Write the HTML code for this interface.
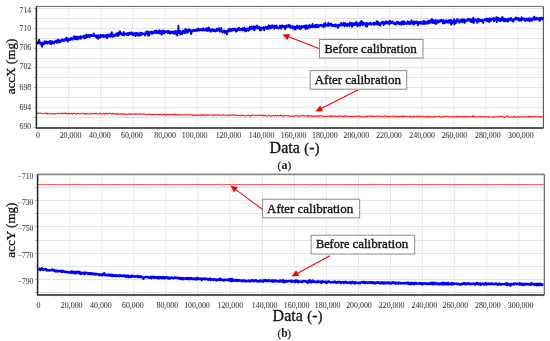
<!DOCTYPE html>
<html><head><meta charset="utf-8"><title>Calibration chart</title>
<style>html,body{margin:0;padding:0;background:#fff;}body{width:550px;height:341px;overflow:hidden;}svg{display:block;filter:blur(0.3px);}</style>
</head><body>
<svg width="550" height="341" viewBox="0 0 550 341">
<rect width="550" height="341" fill="#fff"/>
<g font-family="'Liberation Serif', 'Times New Roman', serif" fill="#3a3a3a">
<line x1="36.4" y1="8.50" x2="543.4" y2="8.50" stroke="#e3e3e3" stroke-width="1"/>
<line x1="36.4" y1="18.50" x2="543.4" y2="18.50" stroke="#e3e3e3" stroke-width="1"/>
<line x1="36.4" y1="28.50" x2="543.4" y2="28.50" stroke="#e3e3e3" stroke-width="1"/>
<line x1="36.4" y1="38.50" x2="543.4" y2="38.50" stroke="#e3e3e3" stroke-width="1"/>
<line x1="36.4" y1="48.50" x2="543.4" y2="48.50" stroke="#e3e3e3" stroke-width="1"/>
<line x1="36.4" y1="58.50" x2="543.4" y2="58.50" stroke="#e3e3e3" stroke-width="1"/>
<line x1="36.4" y1="67.50" x2="543.4" y2="67.50" stroke="#e3e3e3" stroke-width="1"/>
<line x1="36.4" y1="77.50" x2="543.4" y2="77.50" stroke="#e3e3e3" stroke-width="1"/>
<line x1="36.4" y1="87.50" x2="543.4" y2="87.50" stroke="#e3e3e3" stroke-width="1"/>
<line x1="36.4" y1="97.50" x2="543.4" y2="97.50" stroke="#e3e3e3" stroke-width="1"/>
<line x1="36.4" y1="107.50" x2="543.4" y2="107.50" stroke="#e3e3e3" stroke-width="1"/>
<line x1="36.4" y1="117.50" x2="543.4" y2="117.50" stroke="#e3e3e3" stroke-width="1"/>
<line x1="68.62" y1="6.4" x2="68.62" y2="128.0" stroke="#e4e4e4" stroke-width="0.9"/>
<line x1="100.71" y1="6.4" x2="100.71" y2="128.0" stroke="#e4e4e4" stroke-width="0.9"/>
<line x1="132.80" y1="6.4" x2="132.80" y2="128.0" stroke="#e4e4e4" stroke-width="0.9"/>
<line x1="164.89" y1="6.4" x2="164.89" y2="128.0" stroke="#e4e4e4" stroke-width="0.9"/>
<line x1="196.98" y1="6.4" x2="196.98" y2="128.0" stroke="#e4e4e4" stroke-width="0.9"/>
<line x1="229.07" y1="6.4" x2="229.07" y2="128.0" stroke="#e4e4e4" stroke-width="0.9"/>
<line x1="261.16" y1="6.4" x2="261.16" y2="128.0" stroke="#e4e4e4" stroke-width="0.9"/>
<line x1="293.25" y1="6.4" x2="293.25" y2="128.0" stroke="#e4e4e4" stroke-width="0.9"/>
<line x1="325.34" y1="6.4" x2="325.34" y2="128.0" stroke="#e4e4e4" stroke-width="0.9"/>
<line x1="357.43" y1="6.4" x2="357.43" y2="128.0" stroke="#e4e4e4" stroke-width="0.9"/>
<line x1="389.52" y1="6.4" x2="389.52" y2="128.0" stroke="#e4e4e4" stroke-width="0.9"/>
<line x1="421.61" y1="6.4" x2="421.61" y2="128.0" stroke="#e4e4e4" stroke-width="0.9"/>
<line x1="453.70" y1="6.4" x2="453.70" y2="128.0" stroke="#e4e4e4" stroke-width="0.9"/>
<line x1="485.79" y1="6.4" x2="485.79" y2="128.0" stroke="#e4e4e4" stroke-width="0.9"/>
<line x1="517.88" y1="6.4" x2="517.88" y2="128.0" stroke="#e4e4e4" stroke-width="0.9"/>
<line x1="33.80" y1="8.50" x2="36.4" y2="8.50" stroke="#aaa" stroke-width="0.8"/>
<line x1="33.80" y1="18.50" x2="36.4" y2="18.50" stroke="#aaa" stroke-width="0.8"/>
<line x1="33.80" y1="28.50" x2="36.4" y2="28.50" stroke="#aaa" stroke-width="0.8"/>
<line x1="33.80" y1="38.50" x2="36.4" y2="38.50" stroke="#aaa" stroke-width="0.8"/>
<line x1="33.80" y1="48.50" x2="36.4" y2="48.50" stroke="#aaa" stroke-width="0.8"/>
<line x1="33.80" y1="58.50" x2="36.4" y2="58.50" stroke="#aaa" stroke-width="0.8"/>
<line x1="33.80" y1="67.50" x2="36.4" y2="67.50" stroke="#aaa" stroke-width="0.8"/>
<line x1="33.80" y1="77.50" x2="36.4" y2="77.50" stroke="#aaa" stroke-width="0.8"/>
<line x1="33.80" y1="87.50" x2="36.4" y2="87.50" stroke="#aaa" stroke-width="0.8"/>
<line x1="33.80" y1="97.50" x2="36.4" y2="97.50" stroke="#aaa" stroke-width="0.8"/>
<line x1="33.80" y1="107.50" x2="36.4" y2="107.50" stroke="#aaa" stroke-width="0.8"/>
<line x1="33.80" y1="117.50" x2="36.4" y2="117.50" stroke="#aaa" stroke-width="0.8"/>
<line x1="33.80" y1="127.50" x2="36.4" y2="127.50" stroke="#aaa" stroke-width="0.8"/>
<line x1="36.53" y1="128.0" x2="36.53" y2="130.2" stroke="#ccc" stroke-width="0.7"/>
<line x1="44.55" y1="128.0" x2="44.55" y2="130.2" stroke="#ccc" stroke-width="0.7"/>
<line x1="52.58" y1="128.0" x2="52.58" y2="130.2" stroke="#ccc" stroke-width="0.7"/>
<line x1="60.60" y1="128.0" x2="60.60" y2="130.2" stroke="#ccc" stroke-width="0.7"/>
<line x1="68.62" y1="128.0" x2="68.62" y2="130.2" stroke="#ccc" stroke-width="0.7"/>
<line x1="76.64" y1="128.0" x2="76.64" y2="130.2" stroke="#ccc" stroke-width="0.7"/>
<line x1="84.67" y1="128.0" x2="84.67" y2="130.2" stroke="#ccc" stroke-width="0.7"/>
<line x1="92.69" y1="128.0" x2="92.69" y2="130.2" stroke="#ccc" stroke-width="0.7"/>
<line x1="100.71" y1="128.0" x2="100.71" y2="130.2" stroke="#ccc" stroke-width="0.7"/>
<line x1="108.73" y1="128.0" x2="108.73" y2="130.2" stroke="#ccc" stroke-width="0.7"/>
<line x1="116.76" y1="128.0" x2="116.76" y2="130.2" stroke="#ccc" stroke-width="0.7"/>
<line x1="124.78" y1="128.0" x2="124.78" y2="130.2" stroke="#ccc" stroke-width="0.7"/>
<line x1="132.80" y1="128.0" x2="132.80" y2="130.2" stroke="#ccc" stroke-width="0.7"/>
<line x1="140.82" y1="128.0" x2="140.82" y2="130.2" stroke="#ccc" stroke-width="0.7"/>
<line x1="148.85" y1="128.0" x2="148.85" y2="130.2" stroke="#ccc" stroke-width="0.7"/>
<line x1="156.87" y1="128.0" x2="156.87" y2="130.2" stroke="#ccc" stroke-width="0.7"/>
<line x1="164.89" y1="128.0" x2="164.89" y2="130.2" stroke="#ccc" stroke-width="0.7"/>
<line x1="172.91" y1="128.0" x2="172.91" y2="130.2" stroke="#ccc" stroke-width="0.7"/>
<line x1="180.94" y1="128.0" x2="180.94" y2="130.2" stroke="#ccc" stroke-width="0.7"/>
<line x1="188.96" y1="128.0" x2="188.96" y2="130.2" stroke="#ccc" stroke-width="0.7"/>
<line x1="196.98" y1="128.0" x2="196.98" y2="130.2" stroke="#ccc" stroke-width="0.7"/>
<line x1="205.00" y1="128.0" x2="205.00" y2="130.2" stroke="#ccc" stroke-width="0.7"/>
<line x1="213.03" y1="128.0" x2="213.03" y2="130.2" stroke="#ccc" stroke-width="0.7"/>
<line x1="221.05" y1="128.0" x2="221.05" y2="130.2" stroke="#ccc" stroke-width="0.7"/>
<line x1="229.07" y1="128.0" x2="229.07" y2="130.2" stroke="#ccc" stroke-width="0.7"/>
<line x1="237.09" y1="128.0" x2="237.09" y2="130.2" stroke="#ccc" stroke-width="0.7"/>
<line x1="245.12" y1="128.0" x2="245.12" y2="130.2" stroke="#ccc" stroke-width="0.7"/>
<line x1="253.14" y1="128.0" x2="253.14" y2="130.2" stroke="#ccc" stroke-width="0.7"/>
<line x1="261.16" y1="128.0" x2="261.16" y2="130.2" stroke="#ccc" stroke-width="0.7"/>
<line x1="269.18" y1="128.0" x2="269.18" y2="130.2" stroke="#ccc" stroke-width="0.7"/>
<line x1="277.21" y1="128.0" x2="277.21" y2="130.2" stroke="#ccc" stroke-width="0.7"/>
<line x1="285.23" y1="128.0" x2="285.23" y2="130.2" stroke="#ccc" stroke-width="0.7"/>
<line x1="293.25" y1="128.0" x2="293.25" y2="130.2" stroke="#ccc" stroke-width="0.7"/>
<line x1="301.27" y1="128.0" x2="301.27" y2="130.2" stroke="#ccc" stroke-width="0.7"/>
<line x1="309.30" y1="128.0" x2="309.30" y2="130.2" stroke="#ccc" stroke-width="0.7"/>
<line x1="317.32" y1="128.0" x2="317.32" y2="130.2" stroke="#ccc" stroke-width="0.7"/>
<line x1="325.34" y1="128.0" x2="325.34" y2="130.2" stroke="#ccc" stroke-width="0.7"/>
<line x1="333.36" y1="128.0" x2="333.36" y2="130.2" stroke="#ccc" stroke-width="0.7"/>
<line x1="341.38" y1="128.0" x2="341.38" y2="130.2" stroke="#ccc" stroke-width="0.7"/>
<line x1="349.41" y1="128.0" x2="349.41" y2="130.2" stroke="#ccc" stroke-width="0.7"/>
<line x1="357.43" y1="128.0" x2="357.43" y2="130.2" stroke="#ccc" stroke-width="0.7"/>
<line x1="365.45" y1="128.0" x2="365.45" y2="130.2" stroke="#ccc" stroke-width="0.7"/>
<line x1="373.48" y1="128.0" x2="373.48" y2="130.2" stroke="#ccc" stroke-width="0.7"/>
<line x1="381.50" y1="128.0" x2="381.50" y2="130.2" stroke="#ccc" stroke-width="0.7"/>
<line x1="389.52" y1="128.0" x2="389.52" y2="130.2" stroke="#ccc" stroke-width="0.7"/>
<line x1="397.54" y1="128.0" x2="397.54" y2="130.2" stroke="#ccc" stroke-width="0.7"/>
<line x1="405.57" y1="128.0" x2="405.57" y2="130.2" stroke="#ccc" stroke-width="0.7"/>
<line x1="413.59" y1="128.0" x2="413.59" y2="130.2" stroke="#ccc" stroke-width="0.7"/>
<line x1="421.61" y1="128.0" x2="421.61" y2="130.2" stroke="#ccc" stroke-width="0.7"/>
<line x1="429.63" y1="128.0" x2="429.63" y2="130.2" stroke="#ccc" stroke-width="0.7"/>
<line x1="437.66" y1="128.0" x2="437.66" y2="130.2" stroke="#ccc" stroke-width="0.7"/>
<line x1="445.68" y1="128.0" x2="445.68" y2="130.2" stroke="#ccc" stroke-width="0.7"/>
<line x1="453.70" y1="128.0" x2="453.70" y2="130.2" stroke="#ccc" stroke-width="0.7"/>
<line x1="461.72" y1="128.0" x2="461.72" y2="130.2" stroke="#ccc" stroke-width="0.7"/>
<line x1="469.75" y1="128.0" x2="469.75" y2="130.2" stroke="#ccc" stroke-width="0.7"/>
<line x1="477.77" y1="128.0" x2="477.77" y2="130.2" stroke="#ccc" stroke-width="0.7"/>
<line x1="485.79" y1="128.0" x2="485.79" y2="130.2" stroke="#ccc" stroke-width="0.7"/>
<line x1="493.81" y1="128.0" x2="493.81" y2="130.2" stroke="#ccc" stroke-width="0.7"/>
<line x1="501.84" y1="128.0" x2="501.84" y2="130.2" stroke="#ccc" stroke-width="0.7"/>
<line x1="509.86" y1="128.0" x2="509.86" y2="130.2" stroke="#ccc" stroke-width="0.7"/>
<line x1="517.88" y1="128.0" x2="517.88" y2="130.2" stroke="#ccc" stroke-width="0.7"/>
<line x1="525.90" y1="128.0" x2="525.90" y2="130.2" stroke="#ccc" stroke-width="0.7"/>
<line x1="533.93" y1="128.0" x2="533.93" y2="130.2" stroke="#ccc" stroke-width="0.7"/>
<line x1="541.95" y1="128.0" x2="541.95" y2="130.2" stroke="#ccc" stroke-width="0.7"/>
<line x1="36.4" y1="6.4" x2="543.4" y2="6.4" stroke="#666" stroke-width="1.0"/>
<line x1="543.4" y1="6.4" x2="543.4" y2="128.0" stroke="#555" stroke-width="1.1"/>
<text x="31.2" y="12.65" text-anchor="end" font-size="7.8" stroke="#444" stroke-width="0.08">714</text>
<text x="31.2" y="30.80" text-anchor="end" font-size="7.8" stroke="#444" stroke-width="0.08">710</text>
<text x="31.2" y="50.00" text-anchor="end" font-size="7.8" stroke="#444" stroke-width="0.08">706</text>
<text x="31.2" y="68.80" text-anchor="end" font-size="7.8" stroke="#444" stroke-width="0.08">702</text>
<text x="31.2" y="89.60" text-anchor="end" font-size="7.8" stroke="#444" stroke-width="0.08">698</text>
<text x="31.2" y="110.40" text-anchor="end" font-size="7.8" stroke="#444" stroke-width="0.08">694</text>
<text x="31.2" y="128.70" text-anchor="end" font-size="7.8" stroke="#444" stroke-width="0.08">690</text>
<text x="38.00" y="138.0" text-anchor="middle" font-size="7.9" stroke="#444" stroke-width="0.08">0</text>
<text x="70.50" y="138.0" text-anchor="middle" font-size="7.9" stroke="#444" stroke-width="0.08">20,000</text>
<text x="99.90" y="138.0" text-anchor="middle" font-size="7.9" stroke="#444" stroke-width="0.08">40,000</text>
<text x="131.80" y="138.0" text-anchor="middle" font-size="7.9" stroke="#444" stroke-width="0.08">60,000</text>
<text x="165.10" y="138.0" text-anchor="middle" font-size="7.9" stroke="#444" stroke-width="0.08">80,000</text>
<text x="194.70" y="138.0" text-anchor="middle" font-size="7.9" stroke="#444" stroke-width="0.08">100,000</text>
<text x="228.50" y="138.0" text-anchor="middle" font-size="7.9" stroke="#444" stroke-width="0.08">120,000</text>
<text x="261.60" y="138.0" text-anchor="middle" font-size="7.9" stroke="#444" stroke-width="0.08">140,000</text>
<text x="293.70" y="138.0" text-anchor="middle" font-size="7.9" stroke="#444" stroke-width="0.08">160,000</text>
<text x="324.90" y="138.0" text-anchor="middle" font-size="7.9" stroke="#444" stroke-width="0.08">180,000</text>
<text x="356.30" y="138.0" text-anchor="middle" font-size="7.9" stroke="#444" stroke-width="0.08">200,000</text>
<text x="389.00" y="138.0" text-anchor="middle" font-size="7.9" stroke="#444" stroke-width="0.08">220,000</text>
<text x="422.10" y="138.0" text-anchor="middle" font-size="7.9" stroke="#444" stroke-width="0.08">240,000</text>
<text x="454.50" y="138.0" text-anchor="middle" font-size="7.9" stroke="#444" stroke-width="0.08">260,000</text>
<text x="487.80" y="138.0" text-anchor="middle" font-size="7.9" stroke="#444" stroke-width="0.08">280,000</text>
<text x="520.90" y="138.0" text-anchor="middle" font-size="7.9" stroke="#444" stroke-width="0.08">300,000</text>
<line x1="37.6" y1="187.50" x2="544.3" y2="187.50" stroke="#e3e3e3" stroke-width="1"/>
<line x1="37.6" y1="200.50" x2="544.3" y2="200.50" stroke="#e3e3e3" stroke-width="1"/>
<line x1="37.6" y1="213.50" x2="544.3" y2="213.50" stroke="#e3e3e3" stroke-width="1"/>
<line x1="37.6" y1="226.50" x2="544.3" y2="226.50" stroke="#e3e3e3" stroke-width="1"/>
<line x1="37.6" y1="240.50" x2="544.3" y2="240.50" stroke="#e3e3e3" stroke-width="1"/>
<line x1="37.6" y1="253.50" x2="544.3" y2="253.50" stroke="#e3e3e3" stroke-width="1"/>
<line x1="37.6" y1="266.50" x2="544.3" y2="266.50" stroke="#e3e3e3" stroke-width="1"/>
<line x1="37.6" y1="279.50" x2="544.3" y2="279.50" stroke="#e3e3e3" stroke-width="1"/>
<line x1="37.6" y1="292.50" x2="544.3" y2="292.50" stroke="#e3e3e3" stroke-width="1"/>
<line x1="70.00" y1="174.4" x2="70.00" y2="295.0" stroke="#e4e4e4" stroke-width="0.9"/>
<line x1="102.06" y1="174.4" x2="102.06" y2="295.0" stroke="#e4e4e4" stroke-width="0.9"/>
<line x1="134.12" y1="174.4" x2="134.12" y2="295.0" stroke="#e4e4e4" stroke-width="0.9"/>
<line x1="166.17" y1="174.4" x2="166.17" y2="295.0" stroke="#e4e4e4" stroke-width="0.9"/>
<line x1="198.23" y1="174.4" x2="198.23" y2="295.0" stroke="#e4e4e4" stroke-width="0.9"/>
<line x1="230.28" y1="174.4" x2="230.28" y2="295.0" stroke="#e4e4e4" stroke-width="0.9"/>
<line x1="262.33" y1="174.4" x2="262.33" y2="295.0" stroke="#e4e4e4" stroke-width="0.9"/>
<line x1="294.39" y1="174.4" x2="294.39" y2="295.0" stroke="#e4e4e4" stroke-width="0.9"/>
<line x1="326.44" y1="174.4" x2="326.44" y2="295.0" stroke="#e4e4e4" stroke-width="0.9"/>
<line x1="358.50" y1="174.4" x2="358.50" y2="295.0" stroke="#e4e4e4" stroke-width="0.9"/>
<line x1="390.56" y1="174.4" x2="390.56" y2="295.0" stroke="#e4e4e4" stroke-width="0.9"/>
<line x1="422.61" y1="174.4" x2="422.61" y2="295.0" stroke="#e4e4e4" stroke-width="0.9"/>
<line x1="454.66" y1="174.4" x2="454.66" y2="295.0" stroke="#e4e4e4" stroke-width="0.9"/>
<line x1="486.72" y1="174.4" x2="486.72" y2="295.0" stroke="#e4e4e4" stroke-width="0.9"/>
<line x1="518.77" y1="174.4" x2="518.77" y2="295.0" stroke="#e4e4e4" stroke-width="0.9"/>
<line x1="35.00" y1="187.50" x2="37.6" y2="187.50" stroke="#aaa" stroke-width="0.8"/>
<line x1="35.00" y1="200.50" x2="37.6" y2="200.50" stroke="#aaa" stroke-width="0.8"/>
<line x1="35.00" y1="213.50" x2="37.6" y2="213.50" stroke="#aaa" stroke-width="0.8"/>
<line x1="35.00" y1="226.50" x2="37.6" y2="226.50" stroke="#aaa" stroke-width="0.8"/>
<line x1="35.00" y1="240.50" x2="37.6" y2="240.50" stroke="#aaa" stroke-width="0.8"/>
<line x1="35.00" y1="253.50" x2="37.6" y2="253.50" stroke="#aaa" stroke-width="0.8"/>
<line x1="35.00" y1="266.50" x2="37.6" y2="266.50" stroke="#aaa" stroke-width="0.8"/>
<line x1="35.00" y1="279.50" x2="37.6" y2="279.50" stroke="#aaa" stroke-width="0.8"/>
<line x1="35.00" y1="292.50" x2="37.6" y2="292.50" stroke="#aaa" stroke-width="0.8"/>
<line x1="35.00" y1="174.50" x2="37.6" y2="174.50" stroke="#aaa" stroke-width="0.8"/>
<line x1="37.95" y1="295.0" x2="37.95" y2="297.2" stroke="#ccc" stroke-width="0.7"/>
<line x1="45.96" y1="295.0" x2="45.96" y2="297.2" stroke="#ccc" stroke-width="0.7"/>
<line x1="53.98" y1="295.0" x2="53.98" y2="297.2" stroke="#ccc" stroke-width="0.7"/>
<line x1="61.99" y1="295.0" x2="61.99" y2="297.2" stroke="#ccc" stroke-width="0.7"/>
<line x1="70.00" y1="295.0" x2="70.00" y2="297.2" stroke="#ccc" stroke-width="0.7"/>
<line x1="78.02" y1="295.0" x2="78.02" y2="297.2" stroke="#ccc" stroke-width="0.7"/>
<line x1="86.03" y1="295.0" x2="86.03" y2="297.2" stroke="#ccc" stroke-width="0.7"/>
<line x1="94.05" y1="295.0" x2="94.05" y2="297.2" stroke="#ccc" stroke-width="0.7"/>
<line x1="102.06" y1="295.0" x2="102.06" y2="297.2" stroke="#ccc" stroke-width="0.7"/>
<line x1="110.07" y1="295.0" x2="110.07" y2="297.2" stroke="#ccc" stroke-width="0.7"/>
<line x1="118.09" y1="295.0" x2="118.09" y2="297.2" stroke="#ccc" stroke-width="0.7"/>
<line x1="126.10" y1="295.0" x2="126.10" y2="297.2" stroke="#ccc" stroke-width="0.7"/>
<line x1="134.12" y1="295.0" x2="134.12" y2="297.2" stroke="#ccc" stroke-width="0.7"/>
<line x1="142.13" y1="295.0" x2="142.13" y2="297.2" stroke="#ccc" stroke-width="0.7"/>
<line x1="150.14" y1="295.0" x2="150.14" y2="297.2" stroke="#ccc" stroke-width="0.7"/>
<line x1="158.16" y1="295.0" x2="158.16" y2="297.2" stroke="#ccc" stroke-width="0.7"/>
<line x1="166.17" y1="295.0" x2="166.17" y2="297.2" stroke="#ccc" stroke-width="0.7"/>
<line x1="174.18" y1="295.0" x2="174.18" y2="297.2" stroke="#ccc" stroke-width="0.7"/>
<line x1="182.20" y1="295.0" x2="182.20" y2="297.2" stroke="#ccc" stroke-width="0.7"/>
<line x1="190.21" y1="295.0" x2="190.21" y2="297.2" stroke="#ccc" stroke-width="0.7"/>
<line x1="198.23" y1="295.0" x2="198.23" y2="297.2" stroke="#ccc" stroke-width="0.7"/>
<line x1="206.24" y1="295.0" x2="206.24" y2="297.2" stroke="#ccc" stroke-width="0.7"/>
<line x1="214.25" y1="295.0" x2="214.25" y2="297.2" stroke="#ccc" stroke-width="0.7"/>
<line x1="222.27" y1="295.0" x2="222.27" y2="297.2" stroke="#ccc" stroke-width="0.7"/>
<line x1="230.28" y1="295.0" x2="230.28" y2="297.2" stroke="#ccc" stroke-width="0.7"/>
<line x1="238.29" y1="295.0" x2="238.29" y2="297.2" stroke="#ccc" stroke-width="0.7"/>
<line x1="246.31" y1="295.0" x2="246.31" y2="297.2" stroke="#ccc" stroke-width="0.7"/>
<line x1="254.32" y1="295.0" x2="254.32" y2="297.2" stroke="#ccc" stroke-width="0.7"/>
<line x1="262.33" y1="295.0" x2="262.33" y2="297.2" stroke="#ccc" stroke-width="0.7"/>
<line x1="270.35" y1="295.0" x2="270.35" y2="297.2" stroke="#ccc" stroke-width="0.7"/>
<line x1="278.36" y1="295.0" x2="278.36" y2="297.2" stroke="#ccc" stroke-width="0.7"/>
<line x1="286.38" y1="295.0" x2="286.38" y2="297.2" stroke="#ccc" stroke-width="0.7"/>
<line x1="294.39" y1="295.0" x2="294.39" y2="297.2" stroke="#ccc" stroke-width="0.7"/>
<line x1="302.40" y1="295.0" x2="302.40" y2="297.2" stroke="#ccc" stroke-width="0.7"/>
<line x1="310.42" y1="295.0" x2="310.42" y2="297.2" stroke="#ccc" stroke-width="0.7"/>
<line x1="318.43" y1="295.0" x2="318.43" y2="297.2" stroke="#ccc" stroke-width="0.7"/>
<line x1="326.44" y1="295.0" x2="326.44" y2="297.2" stroke="#ccc" stroke-width="0.7"/>
<line x1="334.46" y1="295.0" x2="334.46" y2="297.2" stroke="#ccc" stroke-width="0.7"/>
<line x1="342.47" y1="295.0" x2="342.47" y2="297.2" stroke="#ccc" stroke-width="0.7"/>
<line x1="350.49" y1="295.0" x2="350.49" y2="297.2" stroke="#ccc" stroke-width="0.7"/>
<line x1="358.50" y1="295.0" x2="358.50" y2="297.2" stroke="#ccc" stroke-width="0.7"/>
<line x1="366.51" y1="295.0" x2="366.51" y2="297.2" stroke="#ccc" stroke-width="0.7"/>
<line x1="374.53" y1="295.0" x2="374.53" y2="297.2" stroke="#ccc" stroke-width="0.7"/>
<line x1="382.54" y1="295.0" x2="382.54" y2="297.2" stroke="#ccc" stroke-width="0.7"/>
<line x1="390.56" y1="295.0" x2="390.56" y2="297.2" stroke="#ccc" stroke-width="0.7"/>
<line x1="398.57" y1="295.0" x2="398.57" y2="297.2" stroke="#ccc" stroke-width="0.7"/>
<line x1="406.58" y1="295.0" x2="406.58" y2="297.2" stroke="#ccc" stroke-width="0.7"/>
<line x1="414.60" y1="295.0" x2="414.60" y2="297.2" stroke="#ccc" stroke-width="0.7"/>
<line x1="422.61" y1="295.0" x2="422.61" y2="297.2" stroke="#ccc" stroke-width="0.7"/>
<line x1="430.62" y1="295.0" x2="430.62" y2="297.2" stroke="#ccc" stroke-width="0.7"/>
<line x1="438.64" y1="295.0" x2="438.64" y2="297.2" stroke="#ccc" stroke-width="0.7"/>
<line x1="446.65" y1="295.0" x2="446.65" y2="297.2" stroke="#ccc" stroke-width="0.7"/>
<line x1="454.66" y1="295.0" x2="454.66" y2="297.2" stroke="#ccc" stroke-width="0.7"/>
<line x1="462.68" y1="295.0" x2="462.68" y2="297.2" stroke="#ccc" stroke-width="0.7"/>
<line x1="470.69" y1="295.0" x2="470.69" y2="297.2" stroke="#ccc" stroke-width="0.7"/>
<line x1="478.71" y1="295.0" x2="478.71" y2="297.2" stroke="#ccc" stroke-width="0.7"/>
<line x1="486.72" y1="295.0" x2="486.72" y2="297.2" stroke="#ccc" stroke-width="0.7"/>
<line x1="494.73" y1="295.0" x2="494.73" y2="297.2" stroke="#ccc" stroke-width="0.7"/>
<line x1="502.75" y1="295.0" x2="502.75" y2="297.2" stroke="#ccc" stroke-width="0.7"/>
<line x1="510.76" y1="295.0" x2="510.76" y2="297.2" stroke="#ccc" stroke-width="0.7"/>
<line x1="518.77" y1="295.0" x2="518.77" y2="297.2" stroke="#ccc" stroke-width="0.7"/>
<line x1="526.79" y1="295.0" x2="526.79" y2="297.2" stroke="#ccc" stroke-width="0.7"/>
<line x1="534.80" y1="295.0" x2="534.80" y2="297.2" stroke="#ccc" stroke-width="0.7"/>
<line x1="542.82" y1="295.0" x2="542.82" y2="297.2" stroke="#ccc" stroke-width="0.7"/>
<line x1="37.6" y1="174.4" x2="544.3" y2="174.4" stroke="#888" stroke-width="1.6"/>
<line x1="544.3" y1="174.4" x2="544.3" y2="295.0" stroke="#555" stroke-width="1.1"/>
<text x="33.4" y="178.60" text-anchor="end" font-size="7.6" stroke="#444" stroke-width="0.08">−710</text>
<text x="33.4" y="205.10" text-anchor="end" font-size="7.6" stroke="#444" stroke-width="0.08">−730</text>
<text x="33.4" y="231.30" text-anchor="end" font-size="7.6" stroke="#444" stroke-width="0.08">−750</text>
<text x="33.4" y="258.00" text-anchor="end" font-size="7.6" stroke="#444" stroke-width="0.08">−770</text>
<text x="33.4" y="284.00" text-anchor="end" font-size="7.6" stroke="#444" stroke-width="0.08">−790</text>
<text x="38.50" y="307.6" text-anchor="middle" font-size="7.9" stroke="#444" stroke-width="0.08">0</text>
<text x="71.70" y="307.6" text-anchor="middle" font-size="7.9" stroke="#444" stroke-width="0.08">20,000</text>
<text x="100.90" y="307.6" text-anchor="middle" font-size="7.9" stroke="#444" stroke-width="0.08">40,000</text>
<text x="132.80" y="307.6" text-anchor="middle" font-size="7.9" stroke="#444" stroke-width="0.08">60,000</text>
<text x="167.30" y="307.6" text-anchor="middle" font-size="7.9" stroke="#444" stroke-width="0.08">80,000</text>
<text x="197.00" y="307.6" text-anchor="middle" font-size="7.9" stroke="#444" stroke-width="0.08">100,000</text>
<text x="230.30" y="307.6" text-anchor="middle" font-size="7.9" stroke="#444" stroke-width="0.08">120,000</text>
<text x="264.70" y="307.6" text-anchor="middle" font-size="7.9" stroke="#444" stroke-width="0.08">140,000</text>
<text x="296.70" y="307.6" text-anchor="middle" font-size="7.9" stroke="#444" stroke-width="0.08">160,000</text>
<text x="327.70" y="307.6" text-anchor="middle" font-size="7.9" stroke="#444" stroke-width="0.08">180,000</text>
<text x="359.00" y="307.6" text-anchor="middle" font-size="7.9" stroke="#444" stroke-width="0.08">200,000</text>
<text x="391.60" y="307.6" text-anchor="middle" font-size="7.9" stroke="#444" stroke-width="0.08">220,000</text>
<text x="424.40" y="307.6" text-anchor="middle" font-size="7.9" stroke="#444" stroke-width="0.08">240,000</text>
<text x="455.30" y="307.6" text-anchor="middle" font-size="7.9" stroke="#444" stroke-width="0.08">260,000</text>
<text x="487.80" y="307.6" text-anchor="middle" font-size="7.9" stroke="#444" stroke-width="0.08">280,000</text>
<text x="520.60" y="307.6" text-anchor="middle" font-size="7.9" stroke="#444" stroke-width="0.08">300,000</text>
</g>
<polyline points="36.8,43.6 37.1,43.7 37.4,42.9 37.7,42.1 38.0,42.3 38.3,41.6 38.6,42.4 38.9,43.5 39.2,39.8 39.5,41.8 39.8,43.2 40.1,43.4 40.4,43.5 40.7,42.7 41.0,43.9 41.3,45.0 41.6,43.2 41.9,44.4 42.2,46.8 42.5,43.5 42.8,42.7 43.1,44.2 43.4,43.0 43.7,44.4 44.0,44.1 44.3,43.6 44.6,41.2 44.9,43.0 45.2,43.3 45.5,43.3 45.8,41.5 46.1,42.4 46.4,41.8 46.7,41.8 47.0,43.6 47.3,41.8 47.6,42.5 47.9,43.4 48.2,41.9 48.5,42.4 48.8,42.6 49.1,42.5 49.4,41.2 49.7,42.5 50.0,43.8 50.3,40.9 50.6,43.3 50.9,42.5 51.2,41.7 51.5,44.4 51.8,43.1 52.1,41.1 52.4,42.4 52.7,42.9 53.0,42.1 53.3,42.9 53.6,42.1 53.9,42.8 54.2,43.5 54.5,41.4 54.8,42.2 55.1,41.5 55.4,42.0 55.7,40.7 56.0,41.3 56.3,41.6 56.6,42.6 56.9,42.9 57.2,40.3 57.5,40.8 57.8,42.2 58.1,39.5 58.4,41.0 58.7,41.3 59.0,42.5 59.3,41.8 59.6,40.6 59.9,40.5 60.2,40.5 60.5,42.2 60.8,40.2 61.1,40.2 61.4,40.8 61.7,40.3 62.0,40.1 62.3,39.2 62.6,40.2 62.9,39.7 63.2,41.2 63.5,40.6 63.8,39.9 64.1,40.5 64.4,39.5 64.7,40.8 65.0,39.8 65.3,40.3 65.6,38.4 65.9,40.0 66.2,38.0 66.5,37.6 66.8,39.3 67.1,38.7 67.4,39.8 67.7,41.8 68.0,38.7 68.3,38.9 68.6,39.7 68.9,40.0 69.2,39.3 69.5,39.2 69.8,40.1 70.1,39.8 70.4,38.2 70.7,39.1 71.0,39.2 71.3,38.0 71.6,39.3 71.9,38.1 72.2,39.9 72.5,39.1 72.8,38.9 73.1,38.2 73.4,38.6 73.7,36.6 74.0,37.5 74.3,38.9 74.6,36.3 74.9,39.3 75.2,36.6 75.5,39.1 75.8,37.4 76.1,39.0 76.4,38.3 76.7,36.5 77.0,39.3 77.3,39.4 77.6,37.8 77.9,37.6 78.2,37.6 78.5,36.8 78.8,38.8 79.1,37.1 79.4,37.6 79.7,36.8 80.0,36.9 80.3,36.2 80.6,38.7 80.9,37.2 81.2,38.3 81.5,37.3 81.8,36.6 82.1,36.9 82.4,36.6 82.7,37.1 83.0,36.7 83.3,36.7 83.6,35.6 83.9,36.1 84.2,38.5 84.5,36.2 84.8,35.7 85.1,37.1 85.4,38.1 85.7,35.2 86.0,36.4 86.3,35.9 86.6,34.7 86.9,37.2 87.2,36.4 87.5,36.4 87.8,35.5 88.1,36.7 88.4,35.6 88.7,35.9 89.0,34.9 89.3,34.7 89.6,37.2 89.9,35.2 90.2,36.0 90.5,35.6 90.8,35.1 91.1,34.9 91.4,36.0 91.7,35.0 92.0,35.1 92.3,35.2 92.6,36.2 92.9,35.7 93.2,35.3 93.5,34.3 93.8,33.5 94.1,36.0 94.4,36.1 94.7,35.2 95.0,36.0 95.3,36.4 95.6,36.6 95.9,36.8 96.2,35.6 96.5,37.7 96.8,35.1 97.1,37.3 97.4,37.1 97.7,37.6 98.0,38.8 98.3,38.5 98.6,35.8 98.9,35.3 99.2,37.7 99.5,35.9 99.8,36.9 100.1,37.7 100.4,35.2 100.7,34.7 101.0,37.0 101.3,36.8 101.6,36.5 101.9,36.7 102.2,35.8 102.5,35.1 102.8,36.5 103.1,35.6 103.4,34.9 103.7,37.1 104.0,36.5 104.3,36.9 104.6,35.5 104.9,35.8 105.2,35.4 105.5,35.5 105.8,36.5 106.1,35.5 106.4,36.6 106.7,36.5 107.0,38.2 107.3,34.7 107.6,36.9 107.9,35.9 108.2,35.9 108.5,34.4 108.8,35.4 109.1,36.5 109.4,35.6 109.7,35.7 110.0,35.3 110.3,36.7 110.6,35.6 110.9,33.4 111.2,34.9 111.5,33.6 111.8,32.3 112.1,35.0 112.4,36.8 112.7,35.5 113.0,34.3 113.3,34.5 113.6,36.6 113.9,35.6 114.2,35.5 114.5,35.3 114.8,35.3 115.1,36.0 115.4,35.6 115.7,35.2 116.0,33.8 116.3,35.3 116.6,34.0 116.9,35.7 117.2,33.2 117.5,34.2 117.8,34.2 118.1,32.8 118.4,35.8 118.7,35.4 119.0,33.4 119.3,34.6 119.6,34.2 119.9,31.2 120.2,34.0 120.5,33.7 120.8,33.8 121.1,32.7 121.4,33.5 121.7,33.6 122.0,34.9 122.3,34.1 122.6,33.7 122.9,35.2 123.2,33.2 123.5,33.3 123.8,31.9 124.1,35.3 124.4,34.6 124.7,34.6 125.0,34.3 125.3,33.8 125.6,33.9 125.9,33.4 126.2,33.4 126.5,33.7 126.8,35.1 127.1,34.2 127.4,33.6 127.7,33.0 128.0,33.0 128.3,35.2 128.6,34.1 128.9,33.7 129.2,33.3 129.5,32.6 129.8,33.6 130.1,34.6 130.4,33.3 130.7,33.5 131.0,33.5 131.3,33.9 131.6,32.2 131.9,33.6 132.2,33.0 132.5,34.7 132.8,33.1 133.1,34.4 133.4,35.4 133.7,33.6 134.0,33.3 134.3,34.1 134.6,33.9 134.9,33.0 135.2,34.4 135.5,36.0 135.8,33.8 136.1,33.8 136.4,33.0 136.7,34.4 137.0,32.8 137.3,33.0 137.6,35.4 137.9,33.2 138.2,35.1 138.5,35.5 138.8,34.3 139.1,34.5 139.4,35.9 139.7,33.7 140.0,33.3 140.3,32.5 140.6,33.9 140.9,35.3 141.2,34.8 141.5,32.9 141.8,32.9 142.1,33.3 142.4,34.1 142.7,33.5 143.0,33.9 143.3,34.0 143.6,33.4 143.9,33.6 144.2,33.9 144.5,33.5 144.8,34.1 145.1,35.5 145.4,34.2 145.7,33.6 146.0,31.8 146.3,33.9 146.6,31.5 146.9,32.0 147.2,34.2 147.5,34.0 147.8,33.2 148.1,31.5 148.4,35.9 148.7,32.5 149.0,33.8 149.3,35.3 149.6,33.3 149.9,32.2 150.2,31.8 150.5,32.9 150.8,32.7 151.1,31.7 151.4,32.9 151.7,31.6 152.0,33.8 152.3,33.7 152.6,33.7 152.9,32.1 153.2,33.0 153.5,32.4 153.8,32.1 154.1,32.1 154.4,31.1 154.7,30.9 155.0,33.1 155.3,32.0 155.6,32.4 155.9,33.2 156.2,30.5 156.5,31.4 156.8,32.4 157.1,32.6 157.4,31.8 157.7,33.2 158.0,32.4 158.3,31.0 158.6,31.3 158.9,33.0 159.2,32.7 159.5,30.3 159.8,33.5 160.1,32.8 160.4,33.5 160.7,31.8 161.0,31.9 161.3,31.1 161.6,34.7 161.9,32.0 162.2,33.8 162.5,31.6 162.8,32.4 163.1,30.5 163.4,31.8 163.7,33.2 164.0,30.9 164.3,33.3 164.6,32.5 164.9,31.2 165.2,31.7 165.5,31.7 165.8,32.2 166.1,31.7 166.4,31.4 166.7,31.9 167.0,31.2 167.3,30.9 167.6,32.2 167.9,33.1 168.2,30.7 168.5,32.2 168.8,31.6 169.1,31.2 169.4,33.1 169.7,31.7 170.0,33.8 170.3,31.6 170.6,32.8 170.9,32.2 171.2,31.7 171.5,33.1 171.8,32.3 172.1,33.1 172.4,32.5 172.7,31.5 173.0,32.5 173.3,32.7 173.6,33.7 173.9,31.8 174.2,32.7 174.5,31.1 174.8,33.5 175.1,31.8 175.4,31.1 175.7,32.8 176.0,34.0 176.3,31.3 176.6,31.7 176.9,32.1 177.2,35.6 177.5,33.1 177.8,31.9 178.1,32.0 178.4,25.6 178.7,31.9 179.0,33.1 179.3,31.0 179.6,31.4 179.9,30.8 180.2,34.4 180.5,32.2 180.8,32.8 181.1,32.5 181.4,32.7 181.7,32.5 182.0,34.4 182.3,31.4 182.6,30.8 182.9,31.3 183.2,30.9 183.5,32.9 183.8,32.9 184.1,31.1 184.4,30.6 184.7,31.5 185.0,33.2 185.3,28.9 185.6,32.2 185.9,30.5 186.2,32.5 186.5,30.3 186.8,31.0 187.1,29.7 187.4,30.2 187.7,32.6 188.0,32.0 188.3,30.7 188.6,30.3 188.9,29.2 189.2,30.7 189.5,31.0 189.8,31.0 190.1,31.0 190.4,29.9 190.7,30.9 191.0,34.0 191.3,32.3 191.6,32.8 191.9,30.8 192.2,30.2 192.5,30.8 192.8,30.3 193.1,30.1 193.4,30.8 193.7,29.8 194.0,31.4 194.3,30.7 194.6,31.0 194.9,30.6 195.2,30.0 195.5,29.8 195.8,30.5 196.1,30.2 196.4,30.9 196.7,30.7 197.0,29.3 197.3,30.7 197.6,29.2 197.9,29.9 198.2,30.2 198.5,28.4 198.8,30.5 199.1,30.6 199.4,30.2 199.7,29.9 200.0,29.9 200.3,29.3 200.6,30.0 200.9,29.7 201.2,30.3 201.5,28.9 201.8,30.3 202.1,30.2 202.4,29.9 202.7,29.6 203.0,30.5 203.3,28.3 203.6,30.4 203.9,30.1 204.2,30.1 204.5,30.2 204.8,29.1 205.1,29.5 205.4,30.3 205.7,30.1 206.0,29.9 206.3,28.2 206.6,30.3 206.9,31.0 207.2,30.8 207.5,30.1 207.8,28.3 208.1,30.8 208.4,29.7 208.7,27.4 209.0,30.3 209.3,28.5 209.6,28.7 209.9,29.4 210.2,31.3 210.5,29.7 210.8,30.3 211.1,31.8 211.4,31.7 211.7,30.0 212.0,29.9 212.3,28.9 212.6,29.4 212.9,30.6 213.2,30.6 213.5,30.3 213.8,31.2 214.1,29.5 214.4,30.2 214.7,31.0 215.0,30.9 215.3,31.4 215.6,30.7 215.9,30.0 216.2,30.7 216.5,29.4 216.8,28.7 217.1,31.0 217.4,30.4 217.7,30.7 218.0,28.7 218.3,30.1 218.6,29.9 218.9,29.6 219.2,28.3 219.5,30.2 219.8,31.5 220.1,31.0 220.4,30.0 220.7,30.6 221.0,31.4 221.3,28.0 221.6,30.6 221.9,31.3 222.2,31.5 222.5,32.5 222.8,32.0 223.1,31.2 223.4,31.2 223.7,31.7 224.0,30.4 224.3,31.0 224.6,31.9 224.9,33.0 225.2,30.9 225.5,31.1 225.8,31.3 226.1,32.5 226.4,31.2 226.7,32.6 227.0,34.5 227.3,30.8 227.6,30.7 227.9,31.6 228.2,31.8 228.5,29.1 228.8,29.6 229.1,30.8 229.4,29.7 229.7,28.8 230.0,31.3 230.3,30.6 230.6,30.6 230.9,29.5 231.2,30.9 231.5,29.6 231.8,30.8 232.1,28.8 232.4,28.7 232.7,29.7 233.0,28.8 233.3,30.2 233.6,29.8 233.9,28.6 234.2,29.6 234.5,29.1 234.8,30.4 235.1,28.8 235.4,29.0 235.7,30.7 236.0,31.7 236.3,31.5 236.6,29.5 236.9,29.7 237.2,31.0 237.5,29.3 237.8,28.5 238.1,29.6 238.4,29.9 238.7,28.6 239.0,27.8 239.3,28.0 239.6,30.1 239.9,28.7 240.2,29.3 240.5,29.6 240.8,30.0 241.1,29.1 241.4,29.9 241.7,28.5 242.0,29.0 242.3,28.3 242.6,30.5 242.9,29.3 243.2,28.5 243.5,28.9 243.8,29.0 244.1,29.9 244.4,27.6 244.7,28.1 245.0,28.7 245.3,31.6 245.6,30.0 245.9,28.9 246.2,29.7 246.5,31.0 246.8,28.7 247.1,28.6 247.4,30.1 247.7,29.4 248.0,29.5 248.3,28.3 248.6,30.7 248.9,30.5 249.2,29.3 249.5,29.4 249.8,26.7 250.1,29.3 250.4,28.4 250.7,29.1 251.0,29.3 251.3,28.2 251.6,26.8 251.9,28.9 252.2,27.7 252.5,28.1 252.8,27.8 253.1,28.1 253.4,26.1 253.7,29.6 254.0,28.6 254.3,29.4 254.6,30.2 254.9,28.2 255.2,26.4 255.5,27.3 255.8,26.9 256.1,27.6 256.4,28.2 256.7,26.1 257.0,28.4 257.3,25.5 257.6,28.4 257.9,28.0 258.2,27.9 258.5,28.2 258.8,27.8 259.1,27.8 259.4,26.8 259.7,28.5 260.0,30.4 260.3,30.5 260.6,29.8 260.9,29.2 261.2,27.7 261.5,29.8 261.8,28.3 262.1,28.2 262.4,27.9 262.7,28.3 263.0,27.7 263.3,28.0 263.6,27.0 263.9,27.6 264.2,30.2 264.5,27.8 264.8,27.6 265.1,28.3 265.4,28.5 265.7,26.6 266.0,27.5 266.3,28.5 266.6,27.9 266.9,27.7 267.2,29.0 267.5,26.8 267.8,27.5 268.1,26.8 268.4,28.8 268.7,25.3 269.0,26.5 269.3,26.7 269.6,27.9 269.9,27.8 270.2,28.6 270.5,25.7 270.8,28.0 271.1,27.0 271.4,26.6 271.7,27.8 272.0,26.3 272.3,25.2 272.6,26.9 272.9,25.8 273.2,26.6 273.5,27.7 273.8,27.6 274.1,28.9 274.4,27.1 274.7,25.8 275.0,26.6 275.3,26.4 275.6,26.1 275.9,27.8 276.2,26.7 276.5,25.4 276.8,28.1 277.1,27.3 277.4,27.7 277.7,27.5 278.0,28.0 278.3,27.4 278.6,28.6 278.9,27.8 279.2,27.7 279.5,27.7 279.8,25.8 280.1,27.0 280.4,26.9 280.7,27.4 281.0,25.8 281.3,28.7 281.6,27.2 281.9,25.8 282.2,25.3 282.5,26.7 282.8,26.9 283.1,26.2 283.4,27.0 283.7,26.2 284.0,27.4 284.3,26.1 284.6,26.7 284.9,27.7 285.2,29.3 285.5,25.7 285.8,26.2 286.1,25.8 286.4,27.4 286.7,25.5 287.0,26.2 287.3,26.7 287.6,25.8 287.9,25.8 288.2,26.4 288.5,24.8 288.8,25.5 289.1,26.5 289.4,27.1 289.7,26.8 290.0,25.3 290.3,26.6 290.6,27.9 290.9,27.7 291.2,27.1 291.5,26.4 291.8,27.9 292.1,26.7 292.4,26.1 292.7,26.5 293.0,28.7 293.3,27.5 293.6,28.4 293.9,26.8 294.2,28.2 294.5,26.6 294.8,27.0 295.1,29.7 295.4,27.9 295.7,26.7 296.0,27.1 296.3,27.5 296.6,28.4 296.9,26.6 297.2,25.4 297.5,26.8 297.8,27.1 298.1,27.2 298.4,28.4 298.7,27.4 299.0,27.9 299.3,26.0 299.6,27.9 299.9,29.1 300.2,27.8 300.5,27.3 300.8,27.2 301.1,28.8 301.4,26.0 301.7,26.8 302.0,27.4 302.3,27.6 302.6,26.4 302.9,27.1 303.2,26.5 303.5,26.9 303.8,26.6 304.1,25.6 304.4,26.7 304.7,27.5 305.0,25.7 305.3,26.4 305.6,29.0 305.9,25.5 306.2,26.7 306.5,25.4 306.8,27.6 307.1,28.8 307.4,28.5 307.7,26.2 308.0,27.1 308.3,26.5 308.6,26.4 308.9,27.8 309.2,25.0 309.5,27.3 309.8,26.2 310.1,27.6 310.4,26.4 310.7,25.5 311.0,26.4 311.3,26.9 311.6,26.2 311.9,26.6 312.2,25.6 312.5,24.0 312.8,27.0 313.1,26.8 313.4,26.2 313.7,26.1 314.0,27.1 314.3,25.6 314.6,25.3 314.9,25.8 315.2,27.2 315.5,24.6 315.8,27.2 316.1,25.4 316.4,24.9 316.7,27.2 317.0,25.9 317.3,24.7 317.6,25.6 317.9,26.9 318.2,27.1 318.5,25.5 318.8,26.3 319.1,26.6 319.4,25.2 319.7,26.1 320.0,25.6 320.3,25.0 320.6,25.0 320.9,25.5 321.2,25.4 321.5,24.7 321.8,24.8 322.1,26.2 322.4,25.2 322.7,25.8 323.0,26.1 323.3,25.4 323.6,27.0 323.9,23.9 324.2,25.5 324.5,24.4 324.8,26.6 325.1,26.4 325.4,22.8 325.7,23.8 326.0,25.4 326.3,25.6 326.6,25.5 326.9,24.7 327.2,25.3 327.5,25.5 327.8,24.8 328.1,25.9 328.4,22.6 328.7,25.5 329.0,23.8 329.3,25.8 329.6,24.7 329.9,24.0 330.2,25.3 330.5,24.0 330.8,24.0 331.1,23.4 331.4,24.9 331.7,25.5 332.0,26.0 332.3,24.8 332.6,26.0 332.9,25.0 333.2,25.0 333.5,25.7 333.8,26.2 334.1,24.9 334.4,25.0 334.7,25.1 335.0,25.4 335.3,24.5 335.6,26.5 335.9,25.1 336.2,26.0 336.5,24.8 336.8,26.0 337.1,26.1 337.4,25.3 337.7,27.7 338.0,26.0 338.3,27.4 338.6,26.5 338.9,24.8 339.2,25.1 339.5,25.9 339.8,25.5 340.1,25.4 340.4,25.0 340.7,23.5 341.0,25.0 341.3,23.0 341.6,25.6 341.9,24.4 342.2,24.4 342.5,24.9 342.8,25.3 343.1,23.6 343.4,23.2 343.7,23.9 344.0,22.8 344.3,23.9 344.6,26.4 344.9,23.7 345.2,25.4 345.5,23.3 345.8,25.0 346.1,24.3 346.4,24.5 346.7,25.2 347.0,26.3 347.3,24.8 347.6,24.7 347.9,23.6 348.2,25.1 348.5,24.3 348.8,25.3 349.1,24.4 349.4,26.2 349.7,22.5 350.0,24.1 350.3,25.3 350.6,24.1 350.9,23.6 351.2,24.1 351.5,23.0 351.8,24.5 352.1,26.8 352.4,25.5 352.7,23.2 353.0,23.4 353.3,23.9 353.6,25.3 353.9,23.4 354.2,23.6 354.5,25.1 354.8,25.1 355.1,23.8 355.4,23.1 355.7,22.7 356.0,23.5 356.3,22.0 356.6,25.0 356.9,23.6 357.2,24.8 357.5,26.2 357.8,25.5 358.1,23.2 358.4,25.2 358.7,25.5 359.0,23.6 359.3,23.4 359.6,24.3 359.9,22.8 360.2,25.9 360.5,22.0 360.8,23.2 361.1,24.1 361.4,21.0 361.7,24.5 362.0,24.6 362.3,24.1 362.6,25.4 362.9,22.1 363.2,24.2 363.5,23.5 363.8,24.3 364.1,24.4 364.4,23.2 364.7,23.5 365.0,24.9 365.3,24.5 365.6,23.4 365.9,26.1 366.2,26.4 366.5,22.6 366.8,24.3 367.1,26.5 367.4,24.8 367.7,24.2 368.0,23.8 368.3,23.4 368.6,23.7 368.9,23.4 369.2,24.6 369.5,23.5 369.8,23.4 370.1,22.7 370.4,23.8 370.7,22.9 371.0,23.6 371.3,24.8 371.6,24.2 371.9,24.3 372.2,24.1 372.5,23.8 372.8,23.6 373.1,23.4 373.4,24.5 373.7,22.6 374.0,25.0 374.3,23.7 374.6,22.9 374.9,23.2 375.2,23.0 375.5,23.8 375.8,22.9 376.1,24.7 376.4,22.8 376.7,21.3 377.0,22.8 377.3,21.5 377.6,23.5 377.9,24.6 378.2,24.1 378.5,22.1 378.8,22.6 379.1,25.1 379.4,23.6 379.7,23.2 380.0,24.2 380.3,25.6 380.6,24.4 380.9,23.2 381.2,23.3 381.5,23.5 381.8,22.2 382.1,21.7 382.4,22.8 382.7,21.8 383.0,22.6 383.3,22.8 383.6,25.1 383.9,21.9 384.2,22.6 384.5,22.6 384.8,23.2 385.1,23.8 385.4,22.3 385.7,22.0 386.0,21.2 386.3,21.9 386.6,23.4 386.9,22.9 387.2,21.8 387.5,22.5 387.8,22.9 388.1,23.4 388.4,22.3 388.7,22.6 389.0,21.1 389.3,21.8 389.6,24.5 389.9,20.7 390.2,22.6 390.5,23.2 390.8,22.6 391.1,22.2 391.4,22.9 391.7,23.0 392.0,22.9 392.3,21.2 392.6,22.9 392.9,22.2 393.2,22.5 393.5,23.3 393.8,23.8 394.1,24.0 394.4,22.7 394.7,24.1 395.0,24.4 395.3,24.4 395.6,24.6 395.9,23.1 396.2,23.1 396.5,24.1 396.8,21.9 397.1,23.5 397.4,22.8 397.7,23.0 398.0,21.6 398.3,22.5 398.6,23.3 398.9,24.2 399.2,24.3 399.5,23.2 399.8,23.0 400.1,22.4 400.4,23.6 400.7,22.9 401.0,23.7 401.3,24.8 401.6,23.0 401.9,21.5 402.2,22.1 402.5,21.5 402.8,21.7 403.1,24.2 403.4,23.1 403.7,21.3 404.0,23.4 404.3,24.0 404.6,22.3 404.9,22.0 405.2,22.3 405.5,22.9 405.8,23.3 406.1,23.8 406.4,23.9 406.7,23.8 407.0,24.0 407.3,23.3 407.6,21.2 407.9,22.6 408.2,23.0 408.5,22.4 408.8,23.7 409.1,22.4 409.4,21.8 409.7,24.2 410.0,23.5 410.3,23.0 410.6,23.7 410.9,23.8 411.2,23.1 411.5,20.3 411.8,22.0 412.1,22.3 412.4,21.7 412.7,22.9 413.0,23.9 413.3,22.2 413.6,21.5 413.9,24.7 414.2,22.2 414.5,21.4 414.8,22.8 415.1,23.0 415.4,21.9 415.7,23.3 416.0,22.0 416.3,21.6 416.6,22.7 416.9,23.3 417.2,21.8 417.5,22.8 417.8,22.4 418.1,25.3 418.4,21.7 418.7,23.8 419.0,22.4 419.3,22.3 419.6,23.1 419.9,23.3 420.2,23.7 420.5,22.7 420.8,21.8 421.1,21.8 421.4,22.9 421.7,22.9 422.0,23.8 422.3,22.8 422.6,23.4 422.9,23.9 423.2,22.5 423.5,20.9 423.8,21.2 424.1,20.9 424.4,23.9 424.7,21.5 425.0,23.6 425.3,22.9 425.6,24.0 425.9,23.3 426.2,22.2 426.5,22.1 426.8,22.3 427.1,22.4 427.4,21.6 427.7,22.1 428.0,23.7 428.3,20.4 428.6,22.3 428.9,21.1 429.2,22.1 429.5,22.7 429.8,21.8 430.1,22.6 430.4,20.2 430.7,22.9 431.0,21.1 431.3,22.3 431.6,21.8 431.9,19.0 432.2,20.8 432.5,21.7 432.8,23.1 433.1,21.8 433.4,21.8 433.7,20.1 434.0,22.9 434.3,23.3 434.6,21.5 434.9,21.3 435.2,19.9 435.5,22.4 435.8,24.2 436.1,22.2 436.4,22.8 436.7,22.0 437.0,20.5 437.3,22.8 437.6,20.3 437.9,21.3 438.2,21.8 438.5,22.4 438.8,21.9 439.1,21.9 439.4,20.7 439.7,20.2 440.0,21.6 440.3,20.8 440.6,20.2 440.9,20.2 441.2,21.0 441.5,19.6 441.8,20.2 442.1,19.9 442.4,21.7 442.7,22.0 443.0,23.6 443.3,20.1 443.6,21.0 443.9,22.6 444.2,21.5 444.5,21.4 444.8,23.4 445.1,21.4 445.4,20.6 445.7,20.5 446.0,22.2 446.3,22.2 446.6,20.5 446.9,20.9 447.2,22.5 447.5,22.5 447.8,21.3 448.1,22.6 448.4,22.6 448.7,20.2 449.0,21.7 449.3,22.5 449.6,21.5 449.9,20.0 450.2,21.9 450.5,22.9 450.8,23.8 451.1,20.0 451.4,24.7 451.7,20.9 452.0,23.0 452.3,23.2 452.6,22.9 452.9,22.0 453.2,20.7 453.5,22.4 453.8,21.0 454.1,19.1 454.4,24.5 454.7,22.3 455.0,23.3 455.3,20.6 455.6,22.9 455.9,23.0 456.2,22.9 456.5,21.3 456.8,20.0 457.1,21.0 457.4,18.9 457.7,19.4 458.0,21.1 458.3,20.0 458.6,20.8 458.9,20.8 459.2,22.8 459.5,22.1 459.8,20.7 460.1,21.9 460.4,19.9 460.7,20.3 461.0,21.6 461.3,19.4 461.6,20.4 461.9,19.3 462.2,20.7 462.5,22.3 462.8,19.9 463.1,20.8 463.4,19.7 463.7,19.4 464.0,19.3 464.3,22.0 464.6,22.9 464.9,21.0 465.2,19.8 465.5,21.2 465.8,20.2 466.1,21.3 466.4,20.8 466.7,20.8 467.0,21.1 467.3,19.9 467.6,20.0 467.9,18.7 468.2,20.0 468.5,19.0 468.8,20.3 469.1,19.4 469.4,20.5 469.7,20.9 470.0,19.0 470.3,19.6 470.6,19.5 470.9,21.2 471.2,22.1 471.5,21.3 471.8,20.1 472.1,21.9 472.4,18.9 472.7,22.0 473.0,19.8 473.3,17.7 473.6,23.1 473.9,22.0 474.2,19.4 474.5,20.6 474.8,20.3 475.1,20.6 475.4,19.0 475.7,19.8 476.0,21.0 476.3,20.7 476.6,21.7 476.9,20.6 477.2,22.9 477.5,19.8 477.8,20.8 478.1,18.6 478.4,19.3 478.7,21.9 479.0,19.6 479.3,21.1 479.6,20.5 479.9,19.5 480.2,20.2 480.5,20.1 480.8,20.1 481.1,21.3 481.4,21.2 481.7,20.0 482.0,19.7 482.3,20.9 482.6,20.5 482.9,21.6 483.2,23.1 483.5,21.3 483.8,20.3 484.1,20.1 484.4,19.4 484.7,19.3 485.0,19.1 485.3,19.6 485.6,19.5 485.9,20.6 486.2,19.4 486.5,19.6 486.8,18.5 487.1,21.3 487.4,20.1 487.7,21.4 488.0,20.4 488.3,21.0 488.6,19.3 488.9,20.2 489.2,22.2 489.5,18.3 489.8,20.6 490.1,21.1 490.4,19.9 490.7,20.2 491.0,20.7 491.3,18.7 491.6,19.8 491.9,18.5 492.2,18.6 492.5,18.7 492.8,19.2 493.1,19.4 493.4,19.7 493.7,17.8 494.0,21.3 494.3,20.4 494.6,19.9 494.9,18.8 495.2,19.1 495.5,19.7 495.8,19.6 496.1,17.4 496.4,19.9 496.7,22.1 497.0,17.3 497.3,20.2 497.6,19.6 497.9,19.1 498.2,20.6 498.5,18.0 498.8,19.5 499.1,20.8 499.4,19.1 499.7,18.9 500.0,19.5 500.3,18.9 500.6,21.0 500.9,18.5 501.2,20.4 501.5,18.2 501.8,20.2 502.1,19.4 502.4,16.9 502.7,19.6 503.0,18.5 503.3,19.2 503.6,21.2 503.9,18.5 504.2,18.6 504.5,21.2 504.8,19.9 505.1,21.4 505.4,20.1 505.7,18.9 506.0,19.7 506.3,21.0 506.6,20.7 506.9,19.8 507.2,19.8 507.5,19.6 507.8,19.1 508.1,21.7 508.4,19.7 508.7,18.5 509.0,19.2 509.3,20.4 509.6,20.3 509.9,19.5 510.2,19.0 510.5,19.7 510.8,17.9 511.1,18.3 511.4,20.4 511.7,19.1 512.0,20.0 512.3,20.8 512.6,20.2 512.9,19.6 513.2,21.7 513.5,20.2 513.8,19.2 514.1,20.3 514.4,19.9 514.7,18.6 515.0,19.6 515.3,19.3 515.6,17.5 515.9,19.3 516.2,19.2 516.5,19.0 516.8,17.8 517.1,19.1 517.4,19.4 517.7,19.5 518.0,18.2 518.3,20.1 518.6,18.2 518.9,19.2 519.2,20.7 519.5,18.7 519.8,18.9 520.1,20.5 520.4,19.0 520.7,19.1 521.0,19.6 521.3,20.5 521.6,17.1 521.9,18.5 522.2,18.4 522.5,18.3 522.8,18.5 523.1,18.5 523.4,19.7 523.7,18.5 524.0,19.5 524.3,19.8 524.6,18.7 524.9,19.5 525.2,21.1 525.5,19.7 525.8,18.7 526.1,19.3 526.4,18.5 526.7,19.7 527.0,20.3 527.3,18.6 527.6,19.1 527.9,20.5 528.2,18.8 528.5,19.4 528.8,18.2 529.1,18.3 529.4,18.6 529.7,21.3 530.0,18.6 530.3,18.5 530.6,18.4 530.9,18.8 531.2,19.5 531.5,19.0 531.8,20.9 532.1,19.0 532.4,20.3 532.7,19.1 533.0,19.5 533.3,17.4 533.6,18.8 533.9,18.8 534.2,18.7 534.5,16.8 534.8,19.8 535.1,18.6 535.4,18.5 535.7,18.7 536.0,18.8 536.3,19.4 536.6,17.7 536.9,18.1 537.2,19.3 537.5,19.2 537.8,18.7 538.1,18.5 538.4,18.3 538.7,19.0 539.0,20.3 539.3,18.1 539.6,20.7 539.9,20.0 540.2,18.7 540.5,20.0 540.8,17.7 541.1,17.5 541.4,17.9 541.7,18.8 542.0,18.9 542.3,18.8 542.6,19.4 542.9,17.2" fill="none" stroke="#0000ff" stroke-width="1.9" stroke-linejoin="round"/>
<polyline points="36.8,113.7 37.5,113.0 38.2,113.3 38.9,113.4 39.6,113.1 40.3,113.0 41.0,113.2 41.7,113.5 42.4,113.7 43.1,113.7 43.8,113.2 44.5,113.2 45.2,113.2 45.9,113.7 46.6,112.8 47.3,114.0 48.0,113.4 48.7,113.3 49.4,113.7 50.1,113.9 50.8,113.7 51.5,113.9 52.2,113.6 52.9,114.0 53.6,114.0 54.3,113.5 55.0,114.1 55.7,113.6 56.4,113.6 57.1,113.2 57.8,113.5 58.5,113.8 59.2,113.1 59.9,113.8 60.6,113.7 61.3,113.7 62.0,112.8 62.7,113.5 63.4,113.8 64.1,113.3 64.8,113.6 65.5,112.8 66.2,113.8 66.9,113.4 67.6,113.9 68.3,113.0 69.0,113.8 69.7,113.5 70.4,113.9 71.1,113.3 71.8,113.4 72.5,114.4 73.2,113.3 73.9,113.4 74.6,113.5 75.3,113.3 76.0,114.0 76.7,114.2 77.4,113.4 78.1,113.0 78.8,114.0 79.5,114.0 80.2,113.9 80.9,114.0 81.6,113.3 82.3,113.6 83.0,113.2 83.7,113.2 84.4,114.0 85.1,113.4 85.8,114.5 86.5,113.7 87.2,113.4 87.9,113.9 88.6,114.3 89.3,113.8 90.0,113.2 90.7,113.8 91.4,114.2 92.1,113.5 92.8,113.4 93.5,114.0 94.2,113.7 94.9,113.3 95.6,113.6 96.3,113.4 97.0,113.8 97.7,113.7 98.4,114.1 99.1,113.9 99.8,113.2 100.5,113.8 101.2,114.0 101.9,113.9 102.6,114.1 103.3,113.5 104.0,113.4 104.7,114.1 105.4,113.4 106.1,113.0 106.8,114.1 107.5,113.5 108.2,113.7 108.9,113.3 109.6,113.4 110.3,113.4 111.0,113.7 111.7,114.0 112.4,113.0 113.1,114.1 113.8,113.5 114.5,113.5 115.2,114.1 115.9,113.9 116.6,113.4 117.3,114.6 118.0,113.6 118.7,114.0 119.4,114.0 120.1,114.4 120.8,113.8 121.5,114.3 122.2,113.7 122.9,114.4 123.6,113.7 124.3,113.9 125.0,114.7 125.7,114.1 126.4,114.1 127.1,114.8 127.8,114.2 128.5,113.8 129.2,114.3 129.9,113.6 130.6,114.5 131.3,114.5 132.0,113.9 132.7,113.9 133.4,114.2 134.1,114.1 134.8,113.8 135.5,114.3 136.2,113.4 136.9,114.0 137.6,114.0 138.3,114.1 139.0,114.3 139.7,113.7 140.4,114.4 141.1,114.1 141.8,114.0 142.5,113.7 143.2,113.8 143.9,114.4 144.6,113.9 145.3,114.3 146.0,114.6 146.7,114.6 147.4,114.8 148.1,114.2 148.8,113.9 149.5,114.7 150.2,114.4 150.9,114.7 151.6,114.3 152.3,114.8 153.0,114.6 153.7,114.6 154.4,114.5 155.1,114.5 155.8,114.5 156.5,114.5 157.2,114.7 157.9,114.2 158.6,115.0 159.3,114.4 160.0,114.8 160.7,114.4 161.4,114.4 162.1,115.2 162.8,114.4 163.5,114.0 164.2,114.2 164.9,114.4 165.6,115.3 166.3,114.6 167.0,114.9 167.7,114.2 168.4,114.7 169.1,114.8 169.8,115.2 170.5,114.3 171.2,114.8 171.9,114.7 172.6,114.3 173.3,114.6 174.0,114.5 174.7,113.8 175.4,114.9 176.1,114.9 176.8,114.5 177.5,114.2 178.2,115.2 178.9,114.8 179.6,115.1 180.3,115.2 181.0,114.6 181.7,115.0 182.4,114.7 183.1,114.7 183.8,114.7 184.5,114.8 185.2,115.2 185.9,114.8 186.6,114.8 187.3,114.7 188.0,115.0 188.7,114.5 189.4,114.7 190.1,114.8 190.8,114.7 191.5,114.8 192.2,114.7 192.9,115.6 193.6,115.4 194.3,115.1 195.0,114.9 195.7,115.7 196.4,115.1 197.1,114.9 197.8,115.1 198.5,115.1 199.2,115.5 199.9,115.0 200.6,115.7 201.3,114.7 202.0,115.3 202.7,114.7 203.4,115.7 204.1,114.9 204.8,115.0 205.5,115.4 206.2,115.5 206.9,114.7 207.6,115.0 208.3,114.6 209.0,115.1 209.7,115.1 210.4,115.0 211.1,114.9 211.8,115.0 212.5,114.9 213.2,115.3 213.9,115.7 214.6,114.5 215.3,115.1 216.0,115.0 216.7,115.3 217.4,114.8 218.1,115.1 218.8,114.8 219.5,115.4 220.2,115.2 220.9,115.2 221.6,115.3 222.3,115.1 223.0,114.7 223.7,115.4 224.4,115.3 225.1,115.2 225.8,115.6 226.5,115.7 227.2,114.9 227.9,115.0 228.6,115.8 229.3,115.8 230.0,115.0 230.7,114.9 231.4,115.1 232.1,115.1 232.8,114.8 233.5,115.3 234.2,114.9 234.9,114.9 235.6,115.7 236.3,115.1 237.0,115.3 237.7,115.6 238.4,115.7 239.1,115.3 239.8,115.4 240.5,115.1 241.2,116.0 241.9,115.6 242.6,115.0 243.3,115.4 244.0,115.7 244.7,115.6 245.4,116.1 246.1,115.9 246.8,115.3 247.5,115.4 248.2,115.0 248.9,115.6 249.6,115.5 250.3,116.4 251.0,115.5 251.7,114.8 252.4,115.3 253.1,115.6 253.8,115.1 254.5,115.2 255.2,115.4 255.9,115.7 256.6,115.5 257.3,115.2 258.0,115.8 258.7,115.4 259.4,115.4 260.1,115.1 260.8,115.3 261.5,115.8 262.2,115.0 262.9,115.6 263.6,115.9 264.3,115.5 265.0,115.7 265.7,115.2 266.4,116.1 267.1,116.0 267.8,115.7 268.5,115.0 269.2,115.3 269.9,116.0 270.6,116.3 271.3,115.8 272.0,116.1 272.7,115.5 273.4,115.6 274.1,115.7 274.8,115.8 275.5,115.2 276.2,116.0 276.9,116.2 277.6,115.3 278.3,115.3 279.0,115.9 279.7,115.5 280.4,114.9 281.1,116.0 281.8,115.8 282.5,115.6 283.2,116.5 283.9,115.8 284.6,115.5 285.3,115.8 286.0,115.4 286.7,115.5 287.4,115.9 288.1,115.6 288.8,115.7 289.5,116.4 290.2,116.1 290.9,116.1 291.6,116.0 292.3,116.0 293.0,116.4 293.7,115.8 294.4,116.5 295.1,115.5 295.8,115.8 296.5,115.4 297.2,115.8 297.9,116.1 298.6,116.4 299.3,115.7 300.0,115.9 300.7,115.8 301.4,115.7 302.1,115.5 302.8,115.9 303.5,115.3 304.2,116.0 304.9,115.9 305.6,115.7 306.3,115.6 307.0,115.5 307.7,116.6 308.4,115.5 309.1,116.5 309.8,116.2 310.5,115.9 311.2,115.6 311.9,116.4 312.6,116.6 313.3,115.7 314.0,115.9 314.7,116.4 315.4,116.1 316.1,116.7 316.8,115.8 317.5,116.2 318.2,115.6 318.9,116.8 319.6,115.8 320.3,115.3 321.0,116.0 321.7,116.0 322.4,116.7 323.1,116.0 323.8,116.1 324.5,116.3 325.2,116.7 325.9,116.1 326.6,116.5 327.3,116.3 328.0,116.0 328.7,116.2 329.4,116.1 330.1,115.8 330.8,116.6 331.5,115.7 332.2,116.6 332.9,116.5 333.6,116.1 334.3,115.9 335.0,116.1 335.7,116.4 336.4,116.5 337.1,116.3 337.8,116.5 338.5,116.0 339.2,116.3 339.9,115.7 340.6,116.5 341.3,116.3 342.0,116.1 342.7,116.6 343.4,116.5 344.1,115.3 344.8,116.3 345.5,115.8 346.2,116.6 346.9,117.1 347.6,116.1 348.3,116.3 349.0,116.2 349.7,116.4 350.4,116.5 351.1,116.8 351.8,116.0 352.5,116.9 353.2,116.0 353.9,116.4 354.6,116.7 355.3,116.6 356.0,116.0 356.7,116.1 357.4,116.2 358.1,116.3 358.8,116.7 359.5,115.9 360.2,116.5 360.9,116.6 361.6,116.5 362.3,116.5 363.0,116.9 363.7,116.5 364.4,116.7 365.1,116.6 365.8,117.0 366.5,115.7 367.2,116.8 367.9,116.3 368.6,116.3 369.3,116.0 370.0,115.7 370.7,116.2 371.4,116.1 372.1,116.6 372.8,115.9 373.5,116.9 374.2,116.5 374.9,116.3 375.6,116.2 376.3,116.1 377.0,116.0 377.7,116.2 378.4,116.4 379.1,116.4 379.8,115.9 380.5,116.3 381.2,116.1 381.9,116.5 382.6,117.1 383.3,116.7 384.0,116.3 384.7,115.9 385.4,115.9 386.1,115.9 386.8,116.7 387.5,116.2 388.2,116.5 388.9,116.2 389.6,116.5 390.3,117.0 391.0,116.2 391.7,116.3 392.4,116.2 393.1,116.8 393.8,116.1 394.5,116.1 395.2,116.0 395.9,116.0 396.6,116.7 397.3,117.4 398.0,116.1 398.7,116.8 399.4,116.6 400.1,116.1 400.8,116.4 401.5,116.4 402.2,116.3 402.9,117.2 403.6,115.8 404.3,116.7 405.0,116.6 405.7,116.3 406.4,116.6 407.1,116.8 407.8,116.6 408.5,116.7 409.2,116.8 409.9,115.8 410.6,117.1 411.3,117.3 412.0,116.9 412.7,116.9 413.4,116.1 414.1,116.5 414.8,116.3 415.5,116.4 416.2,116.9 416.9,116.3 417.6,116.5 418.3,115.9 419.0,116.5 419.7,116.6 420.4,116.3 421.1,116.3 421.8,117.2 422.5,116.2 423.2,116.2 423.9,116.3 424.6,117.0 425.3,117.3 426.0,116.7 426.7,116.4 427.4,116.5 428.1,117.0 428.8,116.3 429.5,117.1 430.2,117.1 430.9,116.6 431.6,116.9 432.3,116.9 433.0,117.2 433.7,116.3 434.4,117.1 435.1,116.5 435.8,116.4 436.5,116.7 437.2,116.6 437.9,116.3 438.6,116.1 439.3,116.3 440.0,117.2 440.7,117.3 441.4,116.9 442.1,117.1 442.8,116.5 443.5,116.6 444.2,116.8 444.9,116.3 445.6,116.3 446.3,116.7 447.0,116.6 447.7,116.3 448.4,116.8 449.1,116.6 449.8,117.1 450.5,116.7 451.2,116.6 451.9,116.7 452.6,116.6 453.3,116.5 454.0,116.6 454.7,117.0 455.4,116.9 456.1,117.2 456.8,116.1 457.5,116.6 458.2,116.6 458.9,116.8 459.6,116.6 460.3,116.5 461.0,117.0 461.7,116.8 462.4,116.3 463.1,117.2 463.8,117.1 464.5,116.5 465.2,117.0 465.9,116.5 466.6,117.1 467.3,116.7 468.0,116.5 468.7,116.6 469.4,116.5 470.1,116.8 470.8,116.8 471.5,116.8 472.2,116.6 472.9,115.5 473.6,116.8 474.3,116.1 475.0,116.8 475.7,117.2 476.4,116.9 477.1,116.6 477.8,116.7 478.5,116.7 479.2,116.6 479.9,116.6 480.6,116.4 481.3,117.2 482.0,116.8 482.7,117.1 483.4,116.7 484.1,116.8 484.8,116.7 485.5,116.9 486.2,117.1 486.9,116.9 487.6,116.5 488.3,116.5 489.0,117.4 489.7,116.7 490.4,116.7 491.1,117.3 491.8,117.2 492.5,117.0 493.2,116.7 493.9,117.6 494.6,116.9 495.3,117.0 496.0,116.7 496.7,116.3 497.4,116.3 498.1,116.9 498.8,116.9 499.5,116.7 500.2,116.4 500.9,116.3 501.6,116.7 502.3,116.3 503.0,117.1 503.7,117.2 504.4,117.8 505.1,117.1 505.8,116.6 506.5,116.5 507.2,115.6 507.9,116.6 508.6,116.8 509.3,117.2 510.0,117.0 510.7,117.0 511.4,116.9 512.1,117.1 512.8,117.3 513.5,116.5 514.2,116.7 514.9,116.4 515.6,117.4 516.3,117.3 517.0,117.1 517.7,116.4 518.4,116.9 519.1,116.8 519.8,116.9 520.5,116.8 521.2,117.0 521.9,116.7 522.6,117.2 523.3,116.9 524.0,116.8 524.7,116.8 525.4,116.7 526.1,117.1 526.8,116.8 527.5,117.0 528.2,116.7 528.9,116.3 529.6,117.2 530.3,116.5 531.0,117.1 531.7,117.0 532.4,116.3 533.1,116.5 533.8,116.7 534.5,116.6 535.2,116.5 535.9,117.1 536.6,116.8 537.3,117.0 538.0,116.7 538.7,117.0 539.4,116.6 540.1,116.9 540.8,117.1 541.5,116.9 542.2,116.7 542.9,116.5" fill="none" stroke="#ff2020" stroke-width="1.1" stroke-linejoin="round"/>
<polyline points="38.2,269.0 38.6,269.1 39.0,268.9 39.4,268.7 39.8,269.3 40.2,270.2 40.6,269.0 41.0,269.3 41.4,269.4 41.8,268.1 42.2,269.3 42.6,269.0 43.0,270.0 43.4,269.3 43.8,269.1 44.2,269.4 44.6,269.6 45.0,269.3 45.4,269.6 45.8,269.0 46.2,269.6 46.6,270.0 47.0,270.6 47.4,270.1 47.8,269.9 48.2,270.4 48.6,270.4 49.0,270.7 49.4,270.5 49.8,270.0 50.2,270.2 50.6,270.2 51.0,270.3 51.4,270.4 51.8,270.0 52.2,269.4 52.6,270.1 53.0,269.6 53.4,270.5 53.8,270.6 54.2,269.9 54.6,271.0 55.0,271.1 55.4,270.8 55.8,271.6 56.2,271.7 56.6,270.4 57.0,271.4 57.4,271.2 57.8,271.3 58.2,271.5 58.6,270.8 59.0,270.9 59.4,270.9 59.8,271.0 60.2,271.3 60.6,270.8 61.0,271.0 61.4,271.7 61.8,271.5 62.2,271.7 62.6,270.7 63.0,271.2 63.4,271.4 63.8,271.6 64.2,271.4 64.6,272.1 65.0,271.7 65.4,271.8 65.8,271.8 66.2,272.1 66.6,271.6 67.0,272.4 67.4,272.1 67.8,272.0 68.2,272.0 68.6,272.2 69.0,272.5 69.4,272.5 69.8,272.2 70.2,272.5 70.6,272.2 71.0,272.7 71.4,272.2 71.8,271.3 72.2,272.8 72.6,272.3 73.0,271.8 73.4,272.2 73.8,271.9 74.2,273.3 74.6,272.6 75.0,271.7 75.4,272.7 75.8,272.3 76.2,273.4 76.6,272.1 77.0,271.6 77.4,272.7 77.8,272.5 78.2,272.5 78.6,271.8 79.0,272.9 79.4,273.5 79.8,272.0 80.2,273.4 80.6,272.6 81.0,274.0 81.4,273.1 81.8,272.9 82.2,273.5 82.6,273.3 83.0,272.8 83.4,273.4 83.8,272.9 84.2,272.4 84.6,274.1 85.0,273.1 85.4,273.0 85.8,273.4 86.2,272.6 86.6,272.7 87.0,273.2 87.4,273.2 87.8,273.5 88.2,274.0 88.6,273.3 89.0,273.8 89.4,273.8 89.8,273.1 90.2,273.7 90.6,273.2 91.0,274.2 91.4,273.9 91.8,273.8 92.2,273.2 92.6,273.9 93.0,273.5 93.4,274.2 93.8,273.9 94.2,273.6 94.6,274.4 95.0,274.3 95.4,273.8 95.8,274.6 96.2,274.0 96.6,274.0 97.0,274.2 97.4,273.9 97.8,274.0 98.2,274.2 98.6,275.0 99.0,275.0 99.4,274.2 99.8,275.1 100.2,274.4 100.6,274.6 101.0,274.8 101.4,274.6 101.8,275.5 102.2,274.6 102.6,273.9 103.0,275.1 103.4,274.3 103.8,274.4 104.2,273.2 104.6,275.0 105.0,275.0 105.4,275.0 105.8,275.1 106.2,275.5 106.6,274.8 107.0,275.3 107.4,274.6 107.8,274.8 108.2,275.5 108.6,275.2 109.0,274.5 109.4,275.3 109.8,275.1 110.2,274.9 110.6,275.5 111.0,275.2 111.4,274.7 111.8,274.9 112.2,276.3 112.6,274.9 113.0,275.7 113.4,275.9 113.8,275.9 114.2,275.1 114.6,275.5 115.0,275.7 115.4,276.0 115.8,275.4 116.2,275.2 116.6,276.2 117.0,276.2 117.4,275.9 117.8,275.5 118.2,275.9 118.6,275.8 119.0,276.2 119.4,275.2 119.8,275.9 120.2,275.8 120.6,275.3 121.0,276.0 121.4,275.9 121.8,275.7 122.2,276.1 122.6,275.3 123.0,275.9 123.4,276.1 123.8,276.1 124.2,276.4 124.6,275.4 125.0,275.3 125.4,276.1 125.8,276.2 126.2,277.0 126.6,276.3 127.0,275.6 127.4,276.4 127.8,275.7 128.2,275.4 128.6,277.2 129.0,276.2 129.4,276.4 129.8,276.4 130.2,276.9 130.6,276.3 131.0,276.7 131.4,275.7 131.8,275.5 132.2,276.8 132.6,276.8 133.0,276.4 133.4,276.3 133.8,276.3 134.2,275.9 134.6,276.9 135.0,276.5 135.4,276.5 135.8,276.4 136.2,276.7 136.6,276.5 137.0,276.6 137.4,275.8 137.8,276.5 138.2,277.3 138.6,276.2 139.0,276.4 139.4,277.0 139.8,277.1 140.2,277.0 140.6,276.1 141.0,277.1 141.4,276.4 141.8,276.7 142.2,277.4 142.6,277.1 143.0,277.7 143.4,278.8 143.8,277.8 144.2,277.8 144.6,277.1 145.0,277.2 145.4,277.0 145.8,277.2 146.2,276.9 146.6,277.1 147.0,277.3 147.4,277.0 147.8,276.8 148.2,276.8 148.6,277.6 149.0,277.4 149.4,277.8 149.8,277.8 150.2,277.2 150.6,277.6 151.0,276.7 151.4,278.3 151.8,277.9 152.2,277.2 152.6,276.8 153.0,277.5 153.4,276.6 153.8,277.1 154.2,277.8 154.6,277.5 155.0,277.2 155.4,277.9 155.8,277.0 156.2,277.6 156.6,277.3 157.0,277.1 157.4,277.8 157.8,277.1 158.2,278.4 158.6,277.3 159.0,278.5 159.4,277.1 159.8,277.9 160.2,277.1 160.6,277.1 161.0,277.8 161.4,278.0 161.8,277.1 162.2,278.3 162.6,277.4 163.0,277.8 163.4,277.9 163.8,278.1 164.2,277.0 164.6,278.5 165.0,278.1 165.4,277.6 165.8,277.4 166.2,277.1 166.6,277.3 167.0,278.1 167.4,277.7 167.8,277.4 168.2,277.7 168.6,278.6 169.0,277.8 169.4,277.7 169.8,278.6 170.2,278.2 170.6,278.0 171.0,277.7 171.4,277.3 171.8,277.5 172.2,277.8 172.6,278.0 173.0,278.2 173.4,278.3 173.8,278.2 174.2,278.2 174.6,277.7 175.0,277.2 175.4,277.9 175.8,277.7 176.2,277.9 176.6,278.0 177.0,277.6 177.4,277.7 177.8,278.2 178.2,278.3 178.6,277.9 179.0,278.5 179.4,278.2 179.8,277.8 180.2,278.3 180.6,279.1 181.0,278.0 181.4,278.8 181.8,278.9 182.2,279.0 182.6,278.0 183.0,279.3 183.4,278.4 183.8,278.3 184.2,278.3 184.6,278.7 185.0,278.5 185.4,278.4 185.8,279.0 186.2,278.1 186.6,278.0 187.0,278.8 187.4,278.8 187.8,279.0 188.2,278.0 188.6,279.0 189.0,278.8 189.4,279.4 189.8,278.0 190.2,278.7 190.6,278.5 191.0,277.9 191.4,278.3 191.8,279.1 192.2,278.4 192.6,278.3 193.0,279.1 193.4,279.1 193.8,279.1 194.2,278.4 194.6,278.7 195.0,279.2 195.4,278.5 195.8,278.4 196.2,279.2 196.6,279.5 197.0,278.3 197.4,277.7 197.8,278.2 198.2,278.4 198.6,278.8 199.0,279.1 199.4,278.8 199.8,278.6 200.2,279.0 200.6,278.5 201.0,278.9 201.4,278.7 201.8,280.2 202.2,279.3 202.6,278.6 203.0,278.6 203.4,278.8 203.8,278.3 204.2,278.7 204.6,278.7 205.0,279.5 205.4,278.9 205.8,278.8 206.2,278.5 206.6,278.6 207.0,279.2 207.4,279.1 207.8,279.7 208.2,279.0 208.6,279.7 209.0,279.4 209.4,279.3 209.8,278.4 210.2,278.8 210.6,279.7 211.0,280.0 211.4,279.5 211.8,279.7 212.2,279.2 212.6,279.3 213.0,279.2 213.4,279.9 213.8,279.7 214.2,279.4 214.6,279.4 215.0,279.8 215.4,279.7 215.8,279.2 216.2,280.4 216.6,279.7 217.0,279.6 217.4,280.3 217.8,280.1 218.2,279.6 218.6,279.9 219.0,279.2 219.4,279.4 219.8,278.7 220.2,280.2 220.6,278.9 221.0,280.0 221.4,279.4 221.8,279.3 222.2,279.7 222.6,279.9 223.0,280.0 223.4,280.6 223.8,279.9 224.2,280.2 224.6,279.5 225.0,280.1 225.4,279.9 225.8,279.6 226.2,279.8 226.6,279.8 227.0,279.9 227.4,280.1 227.8,279.7 228.2,279.6 228.6,280.2 229.0,279.2 229.4,279.7 229.8,280.7 230.2,278.8 230.6,279.7 231.0,280.4 231.4,279.4 231.8,281.3 232.2,279.0 232.6,280.8 233.0,280.9 233.4,280.6 233.8,280.2 234.2,280.5 234.6,279.9 235.0,280.7 235.4,279.9 235.8,280.3 236.2,280.9 236.6,280.0 237.0,280.3 237.4,280.6 237.8,279.9 238.2,281.1 238.6,280.8 239.0,279.9 239.4,280.6 239.8,280.3 240.2,280.4 240.6,280.7 241.0,280.4 241.4,281.1 241.8,280.4 242.2,281.2 242.6,280.7 243.0,281.1 243.4,280.5 243.8,280.5 244.2,280.2 244.6,281.0 245.0,281.2 245.4,281.7 245.8,281.3 246.2,280.9 246.6,280.7 247.0,280.9 247.4,280.8 247.8,281.4 248.2,281.2 248.6,280.4 249.0,280.5 249.4,281.4 249.8,280.9 250.2,280.7 250.6,281.3 251.0,280.6 251.4,280.7 251.8,280.6 252.2,279.9 252.6,281.2 253.0,280.3 253.4,280.6 253.8,280.5 254.2,281.2 254.6,280.8 255.0,280.9 255.4,280.1 255.8,280.8 256.2,280.2 256.6,281.0 257.0,281.0 257.4,280.9 257.8,281.8 258.2,281.1 258.6,281.2 259.0,281.0 259.4,280.8 259.8,281.3 260.2,281.4 260.6,280.3 261.0,281.4 261.4,281.1 261.8,281.4 262.2,281.1 262.6,280.4 263.0,280.4 263.4,281.8 263.8,281.1 264.2,280.3 264.6,281.1 265.0,280.8 265.4,280.1 265.8,279.9 266.2,280.2 266.6,281.1 267.0,280.9 267.4,280.9 267.8,281.1 268.2,281.3 268.6,280.0 269.0,280.9 269.4,280.6 269.8,280.4 270.2,280.8 270.6,281.0 271.0,280.9 271.4,280.4 271.8,280.8 272.2,281.9 272.6,280.6 273.0,280.3 273.4,281.2 273.8,281.3 274.2,281.3 274.6,280.5 275.0,281.5 275.4,280.7 275.8,280.5 276.2,280.8 276.6,281.0 277.0,281.4 277.4,281.4 277.8,281.1 278.2,281.5 278.6,281.1 279.0,281.5 279.4,280.5 279.8,280.4 280.2,281.5 280.6,280.5 281.0,281.0 281.4,281.1 281.8,280.9 282.2,280.9 282.6,281.8 283.0,280.0 283.4,281.5 283.8,282.2 284.2,281.2 284.6,281.1 285.0,281.5 285.4,282.0 285.8,280.6 286.2,281.2 286.6,281.1 287.0,281.4 287.4,281.2 287.8,281.5 288.2,281.0 288.6,281.2 289.0,280.9 289.4,280.9 289.8,281.1 290.2,281.1 290.6,280.7 291.0,281.9 291.4,281.2 291.8,280.6 292.2,281.7 292.6,280.9 293.0,281.5 293.4,281.2 293.8,281.4 294.2,281.3 294.6,281.0 295.0,281.3 295.4,282.2 295.8,280.3 296.2,281.3 296.6,281.5 297.0,280.8 297.4,280.7 297.8,282.2 298.2,281.1 298.6,282.2 299.0,281.5 299.4,281.3 299.8,281.5 300.2,281.6 300.6,281.8 301.0,281.5 301.4,281.4 301.8,281.4 302.2,282.0 302.6,281.7 303.0,280.9 303.4,281.1 303.8,281.5 304.2,281.1 304.6,281.2 305.0,281.0 305.4,281.3 305.8,281.6 306.2,281.9 306.6,281.5 307.0,282.4 307.4,281.4 307.8,282.9 308.2,281.9 308.6,281.7 309.0,281.3 309.4,280.2 309.8,281.5 310.2,281.6 310.6,282.4 311.0,280.9 311.4,282.4 311.8,281.5 312.2,281.9 312.6,280.5 313.0,281.7 313.4,281.5 313.8,281.9 314.2,281.7 314.6,281.1 315.0,282.1 315.4,282.0 315.8,281.9 316.2,282.1 316.6,282.2 317.0,281.7 317.4,281.1 317.8,281.1 318.2,282.3 318.6,282.1 319.0,281.8 319.4,281.6 319.8,281.8 320.2,281.8 320.6,281.6 321.0,281.5 321.4,282.8 321.8,281.9 322.2,281.5 322.6,281.2 323.0,281.5 323.4,282.2 323.8,282.2 324.2,281.8 324.6,281.9 325.0,281.7 325.4,281.4 325.8,282.5 326.2,282.1 326.6,283.0 327.0,281.6 327.4,281.9 327.8,282.3 328.2,281.8 328.6,281.3 329.0,281.5 329.4,282.0 329.8,282.1 330.2,282.0 330.6,282.5 331.0,282.5 331.4,282.2 331.8,282.0 332.2,281.9 332.6,282.3 333.0,282.5 333.4,282.1 333.8,282.3 334.2,281.9 334.6,281.4 335.0,281.6 335.4,282.4 335.8,282.3 336.2,282.8 336.6,282.1 337.0,282.5 337.4,282.7 337.8,282.6 338.2,281.9 338.6,282.1 339.0,282.2 339.4,281.7 339.8,282.4 340.2,282.6 340.6,282.0 341.0,283.1 341.4,282.1 341.8,282.1 342.2,282.1 342.6,281.9 343.0,282.4 343.4,282.2 343.8,283.0 344.2,282.5 344.6,282.5 345.0,282.2 345.4,281.6 345.8,282.2 346.2,281.9 346.6,282.7 347.0,282.3 347.4,283.0 347.8,282.6 348.2,282.7 348.6,282.4 349.0,282.4 349.4,282.6 349.8,282.8 350.2,282.0 350.6,282.6 351.0,283.5 351.4,282.3 351.8,282.3 352.2,282.1 352.6,281.7 353.0,282.9 353.4,282.4 353.8,282.5 354.2,283.2 354.6,283.6 355.0,282.0 355.4,282.9 355.8,282.7 356.2,282.6 356.6,282.7 357.0,282.5 357.4,283.2 357.8,282.8 358.2,282.6 358.6,283.1 359.0,282.9 359.4,282.7 359.8,282.7 360.2,283.3 360.6,282.8 361.0,282.5 361.4,282.2 361.8,282.4 362.2,282.1 362.6,282.6 363.0,282.7 363.4,281.7 363.8,282.6 364.2,282.9 364.6,282.7 365.0,282.2 365.4,283.2 365.8,282.3 366.2,282.1 366.6,282.1 367.0,282.6 367.4,283.1 367.8,283.2 368.2,282.7 368.6,282.1 369.0,282.4 369.4,282.3 369.8,282.6 370.2,281.9 370.6,282.7 371.0,283.0 371.4,282.6 371.8,282.9 372.2,282.3 372.6,282.1 373.0,282.4 373.4,283.3 373.8,283.2 374.2,282.5 374.6,283.3 375.0,282.6 375.4,283.4 375.8,283.0 376.2,282.6 376.6,283.1 377.0,282.4 377.4,282.4 377.8,282.1 378.2,282.9 378.6,282.8 379.0,282.8 379.4,282.6 379.8,283.5 380.2,282.6 380.6,282.5 381.0,283.4 381.4,283.5 381.8,283.0 382.2,282.1 382.6,282.6 383.0,283.2 383.4,282.9 383.8,283.6 384.2,282.3 384.6,283.2 385.0,282.6 385.4,283.5 385.8,282.9 386.2,283.4 386.6,282.6 387.0,282.3 387.4,282.4 387.8,282.7 388.2,282.5 388.6,283.5 389.0,283.6 389.4,283.1 389.8,282.5 390.2,282.9 390.6,282.7 391.0,283.7 391.4,283.1 391.8,283.2 392.2,282.8 392.6,282.1 393.0,282.7 393.4,282.5 393.8,283.2 394.2,283.1 394.6,282.7 395.0,282.9 395.4,283.8 395.8,282.6 396.2,282.7 396.6,283.0 397.0,282.8 397.4,282.9 397.8,283.3 398.2,283.9 398.6,282.3 399.0,283.1 399.4,283.1 399.8,283.1 400.2,283.1 400.6,283.0 401.0,283.6 401.4,283.0 401.8,283.1 402.2,283.2 402.6,283.2 403.0,283.1 403.4,283.6 403.8,283.2 404.2,283.3 404.6,283.2 405.0,282.8 405.4,282.8 405.8,282.8 406.2,283.3 406.6,282.9 407.0,282.8 407.4,283.4 407.8,283.5 408.2,282.5 408.6,284.0 409.0,283.3 409.4,283.2 409.8,283.8 410.2,283.3 410.6,283.0 411.0,284.3 411.4,282.8 411.8,283.3 412.2,283.7 412.6,282.9 413.0,283.3 413.4,283.5 413.8,284.4 414.2,283.0 414.6,283.3 415.0,283.7 415.4,283.4 415.8,282.8 416.2,283.6 416.6,283.4 417.0,283.6 417.4,283.9 417.8,283.9 418.2,283.6 418.6,283.6 419.0,282.9 419.4,283.4 419.8,283.5 420.2,283.3 420.6,283.5 421.0,283.1 421.4,284.2 421.8,284.4 422.2,283.3 422.6,283.7 423.0,283.4 423.4,284.1 423.8,283.7 424.2,283.5 424.6,283.4 425.0,283.6 425.4,283.1 425.8,283.8 426.2,283.2 426.6,283.8 427.0,283.6 427.4,284.1 427.8,283.6 428.2,284.0 428.6,283.2 429.0,283.9 429.4,283.5 429.8,283.7 430.2,283.6 430.6,284.0 431.0,282.7 431.4,283.8 431.8,282.9 432.2,284.2 432.6,282.7 433.0,283.2 433.4,282.9 433.8,284.4 434.2,283.1 434.6,283.7 435.0,283.4 435.4,282.8 435.8,283.5 436.2,283.9 436.6,283.6 437.0,284.1 437.4,283.5 437.8,283.7 438.2,283.5 438.6,283.8 439.0,284.5 439.4,283.8 439.8,283.8 440.2,283.4 440.6,283.3 441.0,284.3 441.4,283.2 441.8,283.3 442.2,283.7 442.6,283.5 443.0,284.6 443.4,282.6 443.8,283.9 444.2,284.0 444.6,283.2 445.0,283.4 445.4,283.9 445.8,284.5 446.2,283.3 446.6,283.0 447.0,284.2 447.4,284.4 447.8,283.6 448.2,282.7 448.6,284.4 449.0,283.7 449.4,284.3 449.8,283.7 450.2,283.6 450.6,283.6 451.0,284.4 451.4,284.4 451.8,282.8 452.2,283.4 452.6,284.6 453.0,283.6 453.4,283.2 453.8,283.8 454.2,283.7 454.6,283.8 455.0,283.6 455.4,283.7 455.8,283.6 456.2,284.0 456.6,283.4 457.0,283.7 457.4,283.8 457.8,284.4 458.2,284.0 458.6,283.8 459.0,284.1 459.4,284.0 459.8,284.3 460.2,284.1 460.6,284.7 461.0,284.5 461.4,283.8 461.8,283.7 462.2,284.3 462.6,284.1 463.0,283.8 463.4,283.2 463.8,283.0 464.2,284.0 464.6,284.2 465.0,284.2 465.4,283.3 465.8,284.4 466.2,283.6 466.6,284.1 467.0,284.1 467.4,283.5 467.8,283.6 468.2,283.0 468.6,283.5 469.0,283.1 469.4,284.1 469.8,283.9 470.2,284.3 470.6,284.1 471.0,283.6 471.4,284.1 471.8,283.8 472.2,284.2 472.6,284.1 473.0,283.5 473.4,283.9 473.8,284.0 474.2,283.8 474.6,284.4 475.0,284.7 475.4,283.8 475.8,283.8 476.2,283.0 476.6,283.9 477.0,283.8 477.4,283.0 477.8,284.1 478.2,284.3 478.6,283.7 479.0,283.8 479.4,283.6 479.8,284.3 480.2,283.3 480.6,283.9 481.0,284.9 481.4,284.0 481.8,284.2 482.2,283.9 482.6,283.5 483.0,284.0 483.4,284.2 483.8,283.6 484.2,284.2 484.6,284.6 485.0,284.5 485.4,283.3 485.8,283.6 486.2,283.3 486.6,284.5 487.0,284.3 487.4,284.4 487.8,283.6 488.2,283.5 488.6,284.1 489.0,284.1 489.4,283.7 489.8,284.1 490.2,284.3 490.6,284.2 491.0,283.6 491.4,283.1 491.8,283.9 492.2,284.1 492.6,283.9 493.0,283.9 493.4,283.8 493.8,284.4 494.2,284.0 494.6,284.1 495.0,283.6 495.4,283.8 495.8,284.1 496.2,283.6 496.6,283.5 497.0,283.9 497.4,284.6 497.8,284.2 498.2,284.7 498.6,284.0 499.0,284.0 499.4,283.5 499.8,283.8 500.2,284.7 500.6,284.2 501.0,284.4 501.4,284.4 501.8,284.1 502.2,284.0 502.6,284.2 503.0,284.4 503.4,284.3 503.8,284.3 504.2,284.2 504.6,283.8 505.0,284.0 505.4,283.7 505.8,284.6 506.2,283.2 506.6,284.0 507.0,285.2 507.4,284.0 507.8,283.6 508.2,284.1 508.6,284.7 509.0,284.1 509.4,284.4 509.8,284.2 510.2,284.0 510.6,285.6 511.0,284.2 511.4,283.9 511.8,283.9 512.2,284.3 512.6,284.3 513.0,284.5 513.4,284.2 513.8,283.5 514.2,284.4 514.6,284.0 515.0,284.0 515.4,283.5 515.8,283.9 516.2,283.8 516.6,284.2 517.0,283.5 517.4,284.2 517.8,284.2 518.2,283.7 518.6,283.9 519.0,283.8 519.4,284.6 519.8,283.1 520.2,284.0 520.6,283.4 521.0,284.0 521.4,284.6 521.8,283.9 522.2,284.3 522.6,283.8 523.0,285.1 523.4,284.6 523.8,284.7 524.2,283.6 524.6,283.7 525.0,284.7 525.4,284.1 525.8,284.1 526.2,284.4 526.6,283.7 527.0,284.6 527.4,284.2 527.8,284.4 528.2,283.9 528.6,284.5 529.0,283.9 529.4,284.7 529.8,284.7 530.2,284.6 530.6,284.5 531.0,284.5 531.4,283.0 531.8,284.6 532.2,284.1 532.6,284.3 533.0,284.1 533.4,283.6 533.8,284.0 534.2,284.6 534.6,284.9 535.0,284.0 535.4,283.9 535.8,284.9 536.2,283.9 536.6,285.2 537.0,284.3 537.4,283.9 537.8,284.7 538.2,285.0 538.6,283.6 539.0,285.0 539.4,284.2 539.8,285.0 540.2,284.1 540.6,283.6 541.0,284.5 541.4,284.7 541.8,285.2 542.2,285.1 542.6,284.6 543.0,284.2 543.4,284.1" fill="none" stroke="#0000ff" stroke-width="2.3" stroke-linejoin="round"/>
<polyline points="38.2,184.6 38.9,184.5 39.6,184.6 40.3,184.3 41.0,184.6 41.7,184.6 42.4,184.9 43.1,184.7 43.8,184.5 44.5,184.7 45.2,184.5 45.9,184.5 46.6,184.4 47.3,184.8 48.0,184.7 48.7,184.5 49.4,184.6 50.1,184.7 50.8,184.7 51.5,184.6 52.2,184.5 52.9,184.5 53.6,184.6 54.3,184.7 55.0,184.5 55.7,184.5 56.4,184.7 57.1,184.5 57.8,184.7 58.5,184.6 59.2,184.7 59.9,184.8 60.6,184.7 61.3,184.7 62.0,184.5 62.7,184.5 63.4,184.7 64.1,184.8 64.8,184.8 65.5,184.9 66.2,184.6 66.9,184.6 67.6,184.7 68.3,184.6 69.0,184.6 69.7,184.5 70.4,184.7 71.1,184.5 71.8,184.7 72.5,184.4 73.2,184.7 73.9,184.5 74.6,184.7 75.3,184.4 76.0,184.5 76.7,184.7 77.4,184.5 78.1,184.6 78.8,184.5 79.5,184.3 80.2,184.6 80.9,184.7 81.6,184.5 82.3,184.7 83.0,184.5 83.7,184.5 84.4,184.6 85.1,184.5 85.8,184.9 86.5,184.4 87.2,184.7 87.9,184.7 88.6,184.4 89.3,184.4 90.0,184.7 90.7,184.5 91.4,184.6 92.1,184.7 92.8,184.6 93.5,184.5 94.2,184.3 94.9,184.6 95.6,184.5 96.3,184.6 97.0,184.6 97.7,184.4 98.4,184.8 99.1,184.7 99.8,184.7 100.5,184.5 101.2,184.6 101.9,184.5 102.6,184.6 103.3,184.5 104.0,184.7 104.7,184.6 105.4,184.6 106.1,184.5 106.8,184.8 107.5,184.6 108.2,184.3 108.9,184.5 109.6,184.6 110.3,184.7 111.0,184.6 111.7,184.6 112.4,184.5 113.1,184.7 113.8,184.5 114.5,184.5 115.2,184.5 115.9,184.7 116.6,184.5 117.3,184.4 118.0,184.7 118.7,184.5 119.4,184.6 120.1,184.6 120.8,184.7 121.5,184.7 122.2,184.5 122.9,184.6 123.6,184.4 124.3,184.8 125.0,184.7 125.7,184.8 126.4,184.6 127.1,184.4 127.8,184.8 128.5,184.6 129.2,184.6 129.9,184.6 130.6,184.7 131.3,184.7 132.0,184.4 132.7,184.7 133.4,184.5 134.1,184.5 134.8,184.8 135.5,184.7 136.2,184.6 136.9,184.4 137.6,184.6 138.3,184.7 139.0,184.6 139.7,184.5 140.4,184.5 141.1,184.4 141.8,184.6 142.5,184.7 143.2,184.7 143.9,184.5 144.6,184.6 145.3,184.7 146.0,184.5 146.7,184.6 147.4,184.9 148.1,184.6 148.8,184.7 149.5,184.5 150.2,184.6 150.9,184.4 151.6,184.6 152.3,184.7 153.0,184.9 153.7,184.7 154.4,184.7 155.1,184.6 155.8,184.5 156.5,184.6 157.2,184.7 157.9,184.5 158.6,184.7 159.3,184.5 160.0,184.4 160.7,184.5 161.4,184.4 162.1,184.4 162.8,184.7 163.5,184.6 164.2,184.6 164.9,184.7 165.6,184.8 166.3,184.5 167.0,184.8 167.7,184.6 168.4,184.6 169.1,184.7 169.8,184.4 170.5,184.5 171.2,184.6 171.9,184.7 172.6,184.6 173.3,184.6 174.0,184.7 174.7,184.8 175.4,184.7 176.1,184.8 176.8,184.6 177.5,184.6 178.2,184.6 178.9,184.6 179.6,184.5 180.3,184.8 181.0,184.6 181.7,184.5 182.4,184.7 183.1,184.8 183.8,184.6 184.5,184.7 185.2,184.5 185.9,184.5 186.6,184.5 187.3,184.6 188.0,184.8 188.7,184.5 189.4,184.8 190.1,184.5 190.8,184.6 191.5,184.7 192.2,184.7 192.9,184.6 193.6,184.4 194.3,184.6 195.0,184.5 195.7,184.9 196.4,184.6 197.1,184.6 197.8,184.5 198.5,184.5 199.2,184.4 199.9,184.7 200.6,184.6 201.3,184.7 202.0,184.5 202.7,184.5 203.4,184.8 204.1,184.5 204.8,184.4 205.5,184.6 206.2,184.5 206.9,184.5 207.6,184.7 208.3,184.5 209.0,184.7 209.7,184.5 210.4,184.8 211.1,184.8 211.8,184.5 212.5,184.6 213.2,184.5 213.9,184.6 214.6,184.7 215.3,184.4 216.0,184.7 216.7,184.4 217.4,184.5 218.1,184.4 218.8,184.9 219.5,184.6 220.2,184.6 220.9,184.5 221.6,184.7 222.3,184.3 223.0,184.6 223.7,184.9 224.4,184.6 225.1,184.6 225.8,184.7 226.5,184.5 227.2,184.6 227.9,184.7 228.6,184.6 229.3,184.6 230.0,184.6 230.7,184.6 231.4,184.6 232.1,184.8 232.8,184.7 233.5,184.6 234.2,184.3 234.9,184.7 235.6,184.7 236.3,184.5 237.0,184.4 237.7,184.5 238.4,184.7 239.1,184.5 239.8,184.5 240.5,184.6 241.2,184.7 241.9,184.6 242.6,184.6 243.3,184.5 244.0,184.8 244.7,184.7 245.4,184.6 246.1,184.4 246.8,184.5 247.5,184.7 248.2,184.5 248.9,184.7 249.6,184.6 250.3,184.6 251.0,184.7 251.7,184.7 252.4,184.5 253.1,184.6 253.8,184.9 254.5,184.5 255.2,184.5 255.9,184.7 256.6,184.6 257.3,184.5 258.0,184.4 258.7,184.7 259.4,184.7 260.1,184.8 260.8,184.6 261.5,184.7 262.2,184.5 262.9,184.6 263.6,184.5 264.3,184.6 265.0,184.7 265.7,184.7 266.4,184.5 267.1,184.8 267.8,184.5 268.5,184.5 269.2,184.6 269.9,184.4 270.6,184.6 271.3,184.6 272.0,184.6 272.7,184.7 273.4,184.6 274.1,184.6 274.8,184.4 275.5,184.6 276.2,184.5 276.9,184.5 277.6,184.6 278.3,184.6 279.0,184.4 279.7,184.4 280.4,184.6 281.1,184.7 281.8,184.6 282.5,184.7 283.2,184.8 283.9,184.7 284.6,184.6 285.3,184.5 286.0,184.5 286.7,184.5 287.4,184.6 288.1,184.6 288.8,184.6 289.5,184.6 290.2,184.7 290.9,184.6 291.6,184.6 292.3,184.6 293.0,184.5 293.7,184.5 294.4,184.7 295.1,184.7 295.8,184.6 296.5,184.6 297.2,184.9 297.9,184.5 298.6,184.6 299.3,184.6 300.0,184.5 300.7,184.6 301.4,184.8 302.1,184.7 302.8,184.7 303.5,184.7 304.2,184.6 304.9,184.7 305.6,184.6 306.3,184.5 307.0,184.6 307.7,184.7 308.4,184.6 309.1,184.7 309.8,184.4 310.5,184.7 311.2,184.9 311.9,184.8 312.6,184.6 313.3,184.5 314.0,184.6 314.7,184.5 315.4,184.7 316.1,184.5 316.8,184.7 317.5,184.8 318.2,184.4 318.9,184.6 319.6,184.5 320.3,184.4 321.0,184.5 321.7,184.6 322.4,184.7 323.1,184.4 323.8,184.7 324.5,184.8 325.2,184.7 325.9,184.7 326.6,184.6 327.3,184.5 328.0,184.7 328.7,184.6 329.4,184.7 330.1,184.9 330.8,184.7 331.5,184.7 332.2,184.8 332.9,184.4 333.6,184.5 334.3,184.6 335.0,184.5 335.7,184.7 336.4,184.6 337.1,184.8 337.8,184.8 338.5,184.7 339.2,184.6 339.9,184.7 340.6,184.7 341.3,184.5 342.0,184.6 342.7,184.7 343.4,184.6 344.1,184.8 344.8,184.7 345.5,184.5 346.2,184.6 346.9,184.5 347.6,184.7 348.3,184.5 349.0,184.7 349.7,184.6 350.4,184.7 351.1,184.6 351.8,184.4 352.5,184.8 353.2,184.6 353.9,184.8 354.6,184.7 355.3,184.7 356.0,184.8 356.7,184.6 357.4,184.8 358.1,184.4 358.8,184.7 359.5,184.6 360.2,184.6 360.9,184.6 361.6,184.6 362.3,184.8 363.0,184.4 363.7,184.6 364.4,184.5 365.1,184.7 365.8,184.5 366.5,184.7 367.2,184.6 367.9,184.7 368.6,184.7 369.3,184.6 370.0,184.6 370.7,184.4 371.4,184.6 372.1,184.7 372.8,184.5 373.5,184.7 374.2,184.4 374.9,184.4 375.6,184.4 376.3,184.5 377.0,184.6 377.7,184.6 378.4,184.6 379.1,184.7 379.8,184.5 380.5,184.4 381.2,184.5 381.9,184.9 382.6,184.3 383.3,184.6 384.0,184.8 384.7,184.7 385.4,184.5 386.1,184.6 386.8,184.7 387.5,184.7 388.2,184.5 388.9,184.7 389.6,184.6 390.3,184.7 391.0,184.8 391.7,184.6 392.4,184.4 393.1,184.6 393.8,184.8 394.5,184.7 395.2,184.6 395.9,184.9 396.6,184.5 397.3,184.7 398.0,184.5 398.7,184.6 399.4,184.6 400.1,184.8 400.8,184.5 401.5,184.5 402.2,184.4 402.9,184.7 403.6,184.5 404.3,184.7 405.0,184.5 405.7,184.6 406.4,184.7 407.1,184.6 407.8,184.7 408.5,184.7 409.2,184.6 409.9,184.4 410.6,184.7 411.3,184.6 412.0,184.7 412.7,184.4 413.4,184.4 414.1,184.3 414.8,184.5 415.5,184.7 416.2,184.7 416.9,184.6 417.6,184.6 418.3,184.7 419.0,184.6 419.7,184.6 420.4,184.6 421.1,184.3 421.8,184.6 422.5,184.8 423.2,184.6 423.9,184.6 424.6,184.5 425.3,184.5 426.0,184.7 426.7,184.6 427.4,184.5 428.1,184.2 428.8,184.5 429.5,184.4 430.2,184.4 430.9,184.7 431.6,184.7 432.3,184.4 433.0,184.7 433.7,184.7 434.4,184.5 435.1,184.7 435.8,184.4 436.5,184.5 437.2,184.4 437.9,184.5 438.6,184.7 439.3,184.4 440.0,184.5 440.7,184.5 441.4,184.6 442.1,184.6 442.8,184.7 443.5,184.5 444.2,184.4 444.9,184.5 445.6,184.6 446.3,184.5 447.0,184.6 447.7,184.8 448.4,184.5 449.1,184.6 449.8,184.8 450.5,184.5 451.2,184.5 451.9,184.5 452.6,184.6 453.3,184.7 454.0,184.6 454.7,184.6 455.4,184.8 456.1,184.7 456.8,184.4 457.5,184.6 458.2,184.6 458.9,184.7 459.6,184.6 460.3,184.5 461.0,184.5 461.7,184.4 462.4,184.6 463.1,184.5 463.8,184.7 464.5,184.5 465.2,184.5 465.9,184.5 466.6,184.5 467.3,184.7 468.0,184.5 468.7,184.6 469.4,184.5 470.1,184.6 470.8,184.4 471.5,184.5 472.2,184.5 472.9,184.7 473.6,184.6 474.3,184.6 475.0,184.7 475.7,184.6 476.4,184.7 477.1,184.7 477.8,184.6 478.5,184.6 479.2,184.6 479.9,184.5 480.6,184.6 481.3,184.7 482.0,184.7 482.7,184.5 483.4,184.4 484.1,184.6 484.8,184.6 485.5,184.7 486.2,184.5 486.9,184.6 487.6,184.7 488.3,184.5 489.0,184.6 489.7,184.8 490.4,184.8 491.1,184.7 491.8,184.6 492.5,184.5 493.2,184.7 493.9,184.6 494.6,184.6 495.3,184.5 496.0,184.6 496.7,184.6 497.4,184.6 498.1,184.8 498.8,184.6 499.5,184.4 500.2,184.5 500.9,184.4 501.6,184.5 502.3,184.7 503.0,184.6 503.7,184.5 504.4,184.6 505.1,184.5 505.8,184.4 506.5,184.4 507.2,184.5 507.9,184.8 508.6,184.4 509.3,184.7 510.0,184.8 510.7,184.6 511.4,184.6 512.1,184.5 512.8,184.6 513.5,184.7 514.2,184.6 514.9,184.7 515.6,184.7 516.3,184.6 517.0,184.6 517.7,184.6 518.4,184.6 519.1,184.5 519.8,184.6 520.5,184.6 521.2,184.5 521.9,184.9 522.6,184.5 523.3,184.5 524.0,184.6 524.7,184.4 525.4,184.5 526.1,184.4 526.8,184.5 527.5,184.6 528.2,184.6 528.9,184.7 529.6,184.7 530.3,184.7 531.0,184.7 531.7,184.5 532.4,184.7 533.1,184.5 533.8,184.5 534.5,184.8 535.2,184.7 535.9,184.6 536.6,184.7 537.3,184.7 538.0,184.4 538.7,184.6 539.4,184.5 540.1,184.6 540.8,184.5 541.5,184.8 542.2,184.7 542.9,184.5 543.6,184.6" fill="none" stroke="#ff2020" stroke-width="1.0" stroke-linejoin="round"/>
<polyline points="36.4,6.4 36.4,128.0 543.4,128.0" fill="none" stroke="#222" stroke-width="1.5"/>
<polyline points="37.6,174.4 37.6,295.0 544.3,295.0" fill="none" stroke="#222" stroke-width="1.5"/>
<line x1="319.5" y1="48.7" x2="287.90" y2="36.55" stroke="#ff0000" stroke-width="1.1"/><polygon points="282.3,34.4 289.98,33.92 287.69,39.90" fill="#ff0000"/>
<rect x="319.5" y="39.5" width="103.5" height="18.5" fill="#fff" stroke="#8a8a8a" stroke-width="1"/><text x="324.60" y="52.6" font-size="13.4" font-family="'Liberation Serif', 'Times New Roman', serif" fill="#111" stroke="#111" stroke-width="0.35" lengthAdjust="spacingAndGlyphs" textLength="33.6">Before</text><text x="361.10" y="52.6" font-size="13.4" font-family="'Liberation Serif', 'Times New Roman', serif" fill="#111" stroke="#111" stroke-width="0.35" lengthAdjust="spacingAndGlyphs" textLength="55.8">calibration</text>
<line x1="357.9" y1="90.0" x2="320.66" y2="108.80" stroke="#ff0000" stroke-width="1.1"/><polygon points="315.3,111.5 320.11,105.49 322.99,111.20" fill="#ff0000"/>
<rect x="310.2" y="70.6" width="96.5" height="18.6" fill="#fff" stroke="#8a8a8a" stroke-width="1"/><text x="314.80" y="83.6" font-size="13.4" font-family="'Liberation Serif', 'Times New Roman', serif" fill="#111" stroke="#111" stroke-width="0.35" lengthAdjust="spacingAndGlyphs" textLength="27.2">After</text><text x="345.20" y="83.6" font-size="13.4" font-family="'Liberation Serif', 'Times New Roman', serif" fill="#111" stroke="#111" stroke-width="0.35" lengthAdjust="spacingAndGlyphs" textLength="55.8">calibration</text>
<line x1="262.6" y1="209.5" x2="235.12" y2="189.17" stroke="#ff0000" stroke-width="1.1"/><polygon points="230.3,185.6 237.83,187.19 234.02,192.34" fill="#ff0000"/>
<rect x="262.6" y="199.2" width="97.1" height="18.7" fill="#fff" stroke="#8a8a8a" stroke-width="1"/><text x="267.10" y="212.5" font-size="13.4" font-family="'Liberation Serif', 'Times New Roman', serif" fill="#111" stroke="#111" stroke-width="0.35" lengthAdjust="spacingAndGlyphs" textLength="27.2">After</text><text x="297.50" y="212.5" font-size="13.4" font-family="'Liberation Serif', 'Times New Roman', serif" fill="#111" stroke="#111" stroke-width="0.35" lengthAdjust="spacingAndGlyphs" textLength="55.8">calibration</text>
<line x1="329.8" y1="255.8" x2="296.78" y2="273.65" stroke="#ff0000" stroke-width="1.1"/><polygon points="291.5,276.5 296.14,270.36 299.18,275.99" fill="#ff0000"/>
<rect x="311.1" y="235.2" width="103.6" height="18.8" fill="#fff" stroke="#8a8a8a" stroke-width="1"/><text x="315.90" y="247.9" font-size="13.4" font-family="'Liberation Serif', 'Times New Roman', serif" fill="#111" stroke="#111" stroke-width="0.35" lengthAdjust="spacingAndGlyphs" textLength="33.6">Before</text><text x="352.40" y="247.9" font-size="13.4" font-family="'Liberation Serif', 'Times New Roman', serif" fill="#111" stroke="#111" stroke-width="0.35" lengthAdjust="spacingAndGlyphs" textLength="55.8">calibration</text>
<text transform="translate(15.0,66.5) rotate(-90)" text-anchor="middle" font-size="13.1" font-family="'Liberation Serif', 'Times New Roman', serif" fill="#111" stroke="#111" stroke-width="0.28">accX (mg)</text>
<text transform="translate(15.0,230.1) rotate(-90)" text-anchor="middle" font-size="13.1" font-family="'Liberation Serif', 'Times New Roman', serif" fill="#111" stroke="#111" stroke-width="0.28">accY (mg)</text>
<g font-family="'Liberation Serif', 'Times New Roman', serif" fill="#111" stroke="#111" stroke-width="0.3"><text x="269.6" y="152.7" font-size="16">Data</text><text x="304.20" y="152.9" font-size="14">(</text><text x="309.30" y="152.7" font-size="16">-</text><text x="314.80" y="152.9" font-size="14">)</text></g>
<g font-family="'Liberation Serif', 'Times New Roman', serif" fill="#111" stroke="#111" stroke-width="0.3"><text x="272.6" y="320.6" font-size="16">Data</text><text x="307.20" y="320.8" font-size="14">(</text><text x="312.30" y="320.6" font-size="16">-</text><text x="317.80" y="320.8" font-size="14">)</text></g>
<g font-family="'Liberation Serif', 'Times New Roman', serif" fill="#111"><text x="277.6" y="168.50" font-size="10.5" stroke="#111" stroke-width="0.25">(</text><text x="281.50" y="168.70" font-size="12" font-weight="bold">a</text><text x="287.80" y="168.50" font-size="10.5" stroke="#111" stroke-width="0.25">)</text></g>
<g font-family="'Liberation Serif', 'Times New Roman', serif" fill="#111"><text x="277.4" y="336.70" font-size="10.5" stroke="#111" stroke-width="0.25">(</text><text x="281.30" y="336.90" font-size="11.5" font-weight="bold">b</text><text x="287.60" y="336.70" font-size="10.5" stroke="#111" stroke-width="0.25">)</text></g>
</svg>
</body></html>
